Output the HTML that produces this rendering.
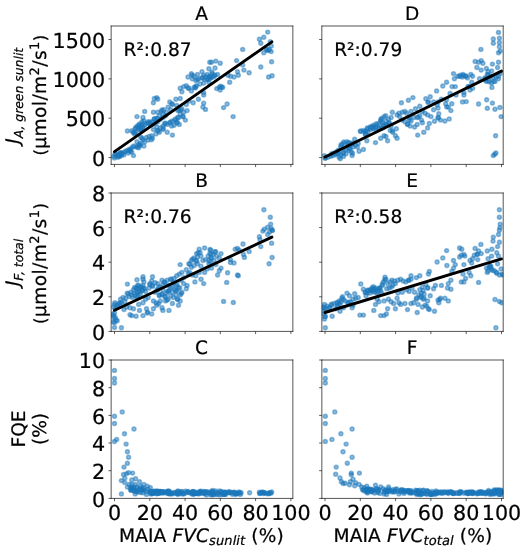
<!DOCTYPE html>
<html><head><meta charset="utf-8"><title>Figure</title>
<style>html,body{margin:0;padding:0;background:#fff}svg text{text-rendering:geometricPrecision;stroke:#000;stroke-width:0.22px;font-family:"DejaVu Sans","Liberation Sans",sans-serif;fill:#000}</style>
</head><body>
<svg width="526" height="550" viewBox="0 0 526 550" style="display:block;filter:blur(0.4px)">
<rect width="526" height="550" fill="#fff"/>
<g id="panelA">
<g fill="#1c78bc" fill-opacity="0.5" stroke="#1c78bc" stroke-opacity="0.5" stroke-width="1.5" clip-path="url(#cpA)">
<clipPath id="cpA"><rect x="111.15" y="26.0" width="181.7" height="138.4"/></clipPath>
<circle cx="113.6" cy="156.4" r="1.95"/>
<circle cx="115.3" cy="154.7" r="1.95"/>
<circle cx="114.5" cy="158.1" r="1.95"/>
<circle cx="117.1" cy="155.6" r="1.95"/>
<circle cx="118.8" cy="154.7" r="1.95"/>
<circle cx="120.5" cy="153.0" r="1.95"/>
<circle cx="122.2" cy="153.8" r="1.95"/>
<circle cx="124.0" cy="152.1" r="1.95"/>
<circle cx="119.7" cy="156.4" r="1.95"/>
<circle cx="117.9" cy="157.3" r="1.95"/>
<circle cx="125.7" cy="151.2" r="1.95"/>
<circle cx="127.4" cy="150.4" r="1.95"/>
<circle cx="129.2" cy="149.5" r="1.95"/>
<circle cx="130.9" cy="148.6" r="1.95"/>
<circle cx="132.6" cy="146.9" r="1.95"/>
<circle cx="128.3" cy="153.0" r="1.95"/>
<circle cx="133.5" cy="155.6" r="1.95"/>
<circle cx="131.8" cy="152.1" r="1.95"/>
<circle cx="130.0" cy="151.2" r="1.95"/>
<circle cx="124.0" cy="154.7" r="1.95"/>
<circle cx="121.4" cy="155.6" r="1.95"/>
<circle cx="137.0" cy="141.7" r="1.95"/>
<circle cx="138.7" cy="145.2" r="1.95"/>
<circle cx="140.4" cy="143.4" r="1.95"/>
<circle cx="143.0" cy="140.0" r="1.95"/>
<circle cx="144.7" cy="141.7" r="1.95"/>
<circle cx="146.5" cy="137.4" r="1.95"/>
<circle cx="148.2" cy="140.0" r="1.95"/>
<circle cx="152.5" cy="138.3" r="1.95"/>
<circle cx="151.7" cy="135.7" r="1.95"/>
<circle cx="149.1" cy="136.5" r="1.95"/>
<circle cx="143.9" cy="146.0" r="1.95"/>
<circle cx="138.7" cy="147.8" r="1.95"/>
<circle cx="136.1" cy="146.9" r="1.95"/>
<circle cx="142.1" cy="138.3" r="1.95"/>
<circle cx="127.4" cy="131.0" r="1.95"/>
<circle cx="131.8" cy="130.8" r="1.95"/>
<circle cx="135.2" cy="128.7" r="1.95"/>
<circle cx="137.0" cy="126.1" r="1.95"/>
<circle cx="138.7" cy="125.3" r="1.95"/>
<circle cx="140.4" cy="127.0" r="1.95"/>
<circle cx="142.1" cy="124.4" r="1.95"/>
<circle cx="137.8" cy="127.9" r="1.95"/>
<circle cx="139.5" cy="129.6" r="1.95"/>
<circle cx="143.0" cy="127.0" r="1.95"/>
<circle cx="144.7" cy="125.3" r="1.95"/>
<circle cx="137.0" cy="116.6" r="1.95"/>
<circle cx="143.0" cy="117.5" r="1.95"/>
<circle cx="144.7" cy="111.4" r="1.95"/>
<circle cx="143.9" cy="121.0" r="1.95"/>
<circle cx="142.1" cy="121.8" r="1.95"/>
<circle cx="146.5" cy="123.5" r="1.95"/>
<circle cx="148.2" cy="121.8" r="1.95"/>
<circle cx="149.9" cy="123.5" r="1.95"/>
<circle cx="141.3" cy="130.5" r="1.95"/>
<circle cx="136.1" cy="132.2" r="1.95"/>
<circle cx="134.4" cy="133.9" r="1.95"/>
<circle cx="153.4" cy="112.3" r="1.95"/>
<circle cx="157.7" cy="112.3" r="1.95"/>
<circle cx="161.2" cy="111.4" r="1.95"/>
<circle cx="163.8" cy="109.7" r="1.95"/>
<circle cx="153.4" cy="102.8" r="1.95"/>
<circle cx="154.3" cy="98.5" r="1.95"/>
<circle cx="156.8" cy="97.6" r="1.95"/>
<circle cx="157.7" cy="99.3" r="1.95"/>
<circle cx="162.9" cy="114.0" r="1.95"/>
<circle cx="159.4" cy="115.8" r="1.95"/>
<circle cx="156.8" cy="118.4" r="1.95"/>
<circle cx="154.3" cy="119.2" r="1.95"/>
<circle cx="152.5" cy="121.8" r="1.95"/>
<circle cx="150.8" cy="125.3" r="1.95"/>
<circle cx="155.1" cy="123.5" r="1.95"/>
<circle cx="157.7" cy="121.8" r="1.95"/>
<circle cx="160.3" cy="119.2" r="1.95"/>
<circle cx="162.9" cy="117.5" r="1.95"/>
<circle cx="165.5" cy="115.8" r="1.95"/>
<circle cx="166.4" cy="112.3" r="1.95"/>
<circle cx="168.1" cy="107.1" r="1.95"/>
<circle cx="169.8" cy="101.9" r="1.95"/>
<circle cx="172.4" cy="104.5" r="1.95"/>
<circle cx="170.7" cy="109.7" r="1.95"/>
<circle cx="157.7" cy="130.5" r="1.95"/>
<circle cx="160.3" cy="127.9" r="1.95"/>
<circle cx="162.9" cy="126.1" r="1.95"/>
<circle cx="164.6" cy="123.5" r="1.95"/>
<circle cx="167.2" cy="124.4" r="1.95"/>
<circle cx="169.8" cy="122.7" r="1.95"/>
<circle cx="172.4" cy="121.0" r="1.95"/>
<circle cx="175.0" cy="119.2" r="1.95"/>
<circle cx="177.6" cy="117.5" r="1.95"/>
<circle cx="179.3" cy="124.4" r="1.95"/>
<circle cx="176.7" cy="122.7" r="1.95"/>
<circle cx="174.1" cy="125.3" r="1.95"/>
<circle cx="171.6" cy="126.1" r="1.95"/>
<circle cx="167.2" cy="132.2" r="1.95"/>
<circle cx="172.4" cy="135.1" r="1.95"/>
<circle cx="162.9" cy="129.6" r="1.95"/>
<circle cx="159.4" cy="132.2" r="1.95"/>
<circle cx="156.0" cy="133.9" r="1.95"/>
<circle cx="153.4" cy="129.6" r="1.95"/>
<circle cx="156.8" cy="127.0" r="1.95"/>
<circle cx="175.9" cy="99.3" r="1.95"/>
<circle cx="180.2" cy="98.5" r="1.95"/>
<circle cx="176.7" cy="105.4" r="1.95"/>
<circle cx="179.3" cy="110.6" r="1.95"/>
<circle cx="181.9" cy="108.8" r="1.95"/>
<circle cx="183.7" cy="112.3" r="1.95"/>
<circle cx="185.4" cy="120.1" r="1.95"/>
<circle cx="182.8" cy="116.6" r="1.95"/>
<circle cx="180.2" cy="114.0" r="1.95"/>
<circle cx="187.1" cy="110.6" r="1.95"/>
<circle cx="186.3" cy="104.5" r="1.95"/>
<circle cx="193.2" cy="102.8" r="1.95"/>
<circle cx="198.4" cy="99.3" r="1.95"/>
<circle cx="188.9" cy="101.1" r="1.95"/>
<circle cx="267.7" cy="32.1" r="1.95"/>
<circle cx="263.8" cy="37.2" r="1.95"/>
<circle cx="259.4" cy="39.3" r="1.95"/>
<circle cx="260.8" cy="43.3" r="1.95"/>
<circle cx="270.3" cy="41.6" r="1.95"/>
<circle cx="271.2" cy="45.9" r="1.95"/>
<circle cx="269.5" cy="49.4" r="1.95"/>
<circle cx="271.2" cy="51.6" r="1.95"/>
<circle cx="266.9" cy="50.2" r="1.95"/>
<circle cx="263.8" cy="52.8" r="1.95"/>
<circle cx="271.6" cy="61.8" r="1.95"/>
<circle cx="260.8" cy="67.0" r="1.95"/>
<circle cx="268.6" cy="77.0" r="1.95"/>
<circle cx="272.1" cy="75.7" r="1.95"/>
<circle cx="242.7" cy="49.4" r="1.95"/>
<circle cx="236.6" cy="60.6" r="1.95"/>
<circle cx="242.7" cy="64.9" r="1.95"/>
<circle cx="243.9" cy="70.1" r="1.95"/>
<circle cx="249.1" cy="72.7" r="1.95"/>
<circle cx="237.5" cy="71.8" r="1.95"/>
<circle cx="238.3" cy="75.3" r="1.95"/>
<circle cx="234.0" cy="77.0" r="1.95"/>
<circle cx="230.5" cy="76.2" r="1.95"/>
<circle cx="229.7" cy="82.2" r="1.95"/>
<circle cx="228.0" cy="75.3" r="1.95"/>
<circle cx="209.8" cy="62.3" r="1.95"/>
<circle cx="211.5" cy="62.3" r="1.95"/>
<circle cx="215.8" cy="61.1" r="1.95"/>
<circle cx="220.2" cy="63.2" r="1.95"/>
<circle cx="215.0" cy="68.0" r="1.95"/>
<circle cx="208.9" cy="68.7" r="1.95"/>
<circle cx="219.3" cy="87.4" r="1.95"/>
<circle cx="216.7" cy="88.6" r="1.95"/>
<circle cx="221.9" cy="86.9" r="1.95"/>
<circle cx="220.2" cy="90.0" r="1.95"/>
<circle cx="202.0" cy="71.8" r="1.95"/>
<circle cx="203.7" cy="75.3" r="1.95"/>
<circle cx="205.5" cy="77.0" r="1.95"/>
<circle cx="207.2" cy="74.4" r="1.95"/>
<circle cx="209.8" cy="76.2" r="1.95"/>
<circle cx="212.4" cy="73.6" r="1.95"/>
<circle cx="215.0" cy="75.3" r="1.95"/>
<circle cx="217.6" cy="74.4" r="1.95"/>
<circle cx="208.1" cy="79.6" r="1.95"/>
<circle cx="210.7" cy="77.9" r="1.95"/>
<circle cx="204.6" cy="79.6" r="1.95"/>
<circle cx="202.0" cy="77.9" r="1.95"/>
<circle cx="203.7" cy="83.1" r="1.95"/>
<circle cx="208.9" cy="82.2" r="1.95"/>
<circle cx="213.2" cy="77.0" r="1.95"/>
<circle cx="203.7" cy="92.6" r="1.95"/>
<circle cx="227.1" cy="104.0" r="1.95"/>
<circle cx="223.6" cy="107.6" r="1.95"/>
<circle cx="233.1" cy="116.6" r="1.95"/>
<circle cx="203.7" cy="103.3" r="1.95"/>
<circle cx="202.9" cy="107.1" r="1.95"/>
<circle cx="205.5" cy="109.4" r="1.95"/>
<circle cx="203.7" cy="95.0" r="1.95"/>
<circle cx="191.4" cy="73.6" r="1.95"/>
<circle cx="188.0" cy="77.0" r="1.95"/>
<circle cx="194.0" cy="76.2" r="1.95"/>
<circle cx="197.5" cy="74.4" r="1.95"/>
<circle cx="192.3" cy="78.8" r="1.95"/>
<circle cx="195.8" cy="80.5" r="1.95"/>
<circle cx="198.4" cy="78.8" r="1.95"/>
<circle cx="180.2" cy="88.3" r="1.95"/>
<circle cx="183.7" cy="86.6" r="1.95"/>
<circle cx="186.3" cy="85.7" r="1.95"/>
<circle cx="188.9" cy="88.3" r="1.95"/>
<circle cx="191.4" cy="90.9" r="1.95"/>
<circle cx="181.9" cy="91.7" r="1.95"/>
<circle cx="196.6" cy="85.7" r="1.95"/>
<circle cx="200.1" cy="84.0" r="1.95"/>
<circle cx="194.0" cy="87.4" r="1.95"/>
<circle cx="115.2" cy="153.5" r="1.95"/>
<circle cx="117.7" cy="155.9" r="1.95"/>
<circle cx="120.1" cy="152.7" r="1.95"/>
<circle cx="121.6" cy="153.1" r="1.95"/>
<circle cx="118.4" cy="154.9" r="1.95"/>
<circle cx="119.5" cy="155.8" r="1.95"/>
<circle cx="130.2" cy="150.7" r="1.95"/>
<circle cx="134.0" cy="146.0" r="1.95"/>
<circle cx="140.2" cy="145.6" r="1.95"/>
<circle cx="139.2" cy="144.5" r="1.95"/>
<circle cx="151.4" cy="139.7" r="1.95"/>
<circle cx="137.4" cy="147.1" r="1.95"/>
<circle cx="140.8" cy="137.3" r="1.95"/>
<circle cx="133.1" cy="132.3" r="1.95"/>
<circle cx="135.7" cy="127.8" r="1.95"/>
<circle cx="139.5" cy="123.9" r="1.95"/>
<circle cx="140.9" cy="125.7" r="1.95"/>
<circle cx="142.4" cy="128.2" r="1.95"/>
<circle cx="148.3" cy="123.1" r="1.95"/>
<circle cx="150.0" cy="122.0" r="1.95"/>
<circle cx="141.0" cy="129.7" r="1.95"/>
<circle cx="134.8" cy="132.7" r="1.95"/>
<circle cx="161.9" cy="109.9" r="1.95"/>
<circle cx="156.7" cy="118.5" r="1.95"/>
<circle cx="154.3" cy="118.8" r="1.95"/>
<circle cx="152.2" cy="124.5" r="1.95"/>
<circle cx="171.8" cy="103.7" r="1.95"/>
<circle cx="165.7" cy="123.3" r="1.95"/>
<circle cx="170.6" cy="121.9" r="1.95"/>
<circle cx="175.9" cy="120.1" r="1.95"/>
<circle cx="178.5" cy="117.8" r="1.95"/>
<circle cx="177.4" cy="122.6" r="1.95"/>
<circle cx="163.3" cy="128.3" r="1.95"/>
<circle cx="158.1" cy="130.8" r="1.95"/>
<circle cx="177.8" cy="110.4" r="1.95"/>
<circle cx="180.6" cy="109.7" r="1.95"/>
<circle cx="183.0" cy="116.5" r="1.95"/>
<circle cx="268.4" cy="50.5" r="1.95"/>
<circle cx="266.6" cy="49.0" r="1.95"/>
<circle cx="220.4" cy="86.2" r="1.95"/>
<circle cx="222.6" cy="87.4" r="1.95"/>
<circle cx="209.2" cy="76.7" r="1.95"/>
<circle cx="211.8" cy="72.1" r="1.95"/>
<circle cx="207.6" cy="79.3" r="1.95"/>
<circle cx="210.3" cy="77.9" r="1.95"/>
<circle cx="202.6" cy="77.7" r="1.95"/>
<circle cx="214.3" cy="75.9" r="1.95"/>
<circle cx="192.2" cy="75.1" r="1.95"/>
<circle cx="197.6" cy="79.7" r="1.95"/>
<circle cx="188.0" cy="88.0" r="1.95"/>
<circle cx="195.5" cy="86.8" r="1.95"/>
<circle cx="195.3" cy="87.9" r="1.95"/>
</g>
<line x1="114.5" y1="151.6" x2="271.9" y2="41.9" stroke="#000" stroke-width="2.9" stroke-linecap="round" clip-path="url(#cpA)"/>
<path d="M111.15 25.6V164.8M292.85 25.6V164.8M110.75 26.0H293.25M110.75 164.4H293.25" fill="none" stroke="#000" stroke-opacity="0.85" stroke-width="0.8"/>
<line x1="108.45" x2="111.15" y1="157.6" y2="157.6" stroke="#000" stroke-opacity="0.8" stroke-width="0.8"/>
<text x="105.2" y="165.8" font-size="20.7" text-anchor="end">0</text>
<line x1="108.45" x2="111.15" y1="118.2" y2="118.2" stroke="#000" stroke-opacity="0.8" stroke-width="0.8"/>
<text x="105.2" y="126.4" font-size="20.7" text-anchor="end">500</text>
<line x1="108.45" x2="111.15" y1="78.9" y2="78.9" stroke="#000" stroke-opacity="0.8" stroke-width="0.8"/>
<text x="105.2" y="87.1" font-size="20.7" text-anchor="end">1000</text>
<line x1="108.45" x2="111.15" y1="39.5" y2="39.5" stroke="#000" stroke-opacity="0.8" stroke-width="0.8"/>
<text x="105.2" y="47.7" font-size="20.7" text-anchor="end">1500</text>
<line x1="114.5" x2="114.5" y1="164.4" y2="167.10" stroke="#000" stroke-opacity="0.8" stroke-width="0.8"/>
<line x1="149.8" x2="149.8" y1="164.4" y2="167.10" stroke="#000" stroke-opacity="0.8" stroke-width="0.8"/>
<line x1="185.1" x2="185.1" y1="164.4" y2="167.10" stroke="#000" stroke-opacity="0.8" stroke-width="0.8"/>
<line x1="220.3" x2="220.3" y1="164.4" y2="167.10" stroke="#000" stroke-opacity="0.8" stroke-width="0.8"/>
<line x1="255.6" x2="255.6" y1="164.4" y2="167.10" stroke="#000" stroke-opacity="0.8" stroke-width="0.8"/>
<line x1="290.9" x2="290.9" y1="164.4" y2="167.10" stroke="#000" stroke-opacity="0.8" stroke-width="0.8"/>
<text x="201.6" y="20.4" font-size="18.6" text-anchor="middle">A</text>
<text x="123.5" y="55.8" font-size="18.6">R²:0.87</text>
</g>
<g id="panelD">
<g fill="#1c78bc" fill-opacity="0.5" stroke="#1c78bc" stroke-opacity="0.5" stroke-width="1.5" clip-path="url(#cpD)">
<clipPath id="cpD"><rect x="321.85" y="26.0" width="181.3" height="138.4"/></clipPath>
<circle cx="324.5" cy="155.6" r="1.95"/>
<circle cx="325.3" cy="158.1" r="1.95"/>
<circle cx="327.9" cy="157.3" r="1.95"/>
<circle cx="330.5" cy="156.4" r="1.95"/>
<circle cx="333.1" cy="155.6" r="1.95"/>
<circle cx="335.7" cy="154.7" r="1.95"/>
<circle cx="338.3" cy="153.8" r="1.95"/>
<circle cx="340.9" cy="154.7" r="1.95"/>
<circle cx="343.5" cy="153.0" r="1.95"/>
<circle cx="346.1" cy="153.8" r="1.95"/>
<circle cx="339.2" cy="157.3" r="1.95"/>
<circle cx="343.5" cy="156.4" r="1.95"/>
<circle cx="352.1" cy="155.6" r="1.95"/>
<circle cx="351.3" cy="152.1" r="1.95"/>
<circle cx="348.7" cy="150.4" r="1.95"/>
<circle cx="346.1" cy="149.5" r="1.95"/>
<circle cx="343.5" cy="148.6" r="1.95"/>
<circle cx="340.9" cy="146.9" r="1.95"/>
<circle cx="341.8" cy="144.3" r="1.95"/>
<circle cx="344.4" cy="143.4" r="1.95"/>
<circle cx="347.0" cy="141.7" r="1.95"/>
<circle cx="349.5" cy="142.6" r="1.95"/>
<circle cx="352.1" cy="144.3" r="1.95"/>
<circle cx="354.7" cy="139.1" r="1.95"/>
<circle cx="348.7" cy="146.0" r="1.95"/>
<circle cx="350.4" cy="148.6" r="1.95"/>
<circle cx="353.0" cy="146.9" r="1.95"/>
<circle cx="355.6" cy="145.2" r="1.95"/>
<circle cx="358.2" cy="143.4" r="1.95"/>
<circle cx="359.1" cy="151.2" r="1.95"/>
<circle cx="363.4" cy="149.5" r="1.95"/>
<circle cx="357.3" cy="146.9" r="1.95"/>
<circle cx="337.4" cy="151.2" r="1.95"/>
<circle cx="334.8" cy="153.0" r="1.95"/>
<circle cx="331.4" cy="154.7" r="1.95"/>
<circle cx="360.8" cy="131.3" r="1.95"/>
<circle cx="363.4" cy="130.5" r="1.95"/>
<circle cx="366.0" cy="131.3" r="1.95"/>
<circle cx="367.7" cy="128.7" r="1.95"/>
<circle cx="370.3" cy="127.0" r="1.95"/>
<circle cx="372.0" cy="126.1" r="1.95"/>
<circle cx="373.8" cy="125.3" r="1.95"/>
<circle cx="375.5" cy="127.0" r="1.95"/>
<circle cx="377.2" cy="125.3" r="1.95"/>
<circle cx="372.9" cy="128.7" r="1.95"/>
<circle cx="370.3" cy="129.6" r="1.95"/>
<circle cx="367.7" cy="132.2" r="1.95"/>
<circle cx="365.1" cy="133.9" r="1.95"/>
<circle cx="379.0" cy="123.5" r="1.95"/>
<circle cx="380.7" cy="121.0" r="1.95"/>
<circle cx="382.4" cy="122.7" r="1.95"/>
<circle cx="384.1" cy="116.6" r="1.95"/>
<circle cx="381.6" cy="118.4" r="1.95"/>
<circle cx="385.9" cy="121.0" r="1.95"/>
<circle cx="388.5" cy="119.2" r="1.95"/>
<circle cx="391.1" cy="117.5" r="1.95"/>
<circle cx="392.3" cy="112.3" r="1.95"/>
<circle cx="389.3" cy="122.7" r="1.95"/>
<circle cx="386.7" cy="124.4" r="1.95"/>
<circle cx="384.1" cy="125.3" r="1.95"/>
<circle cx="381.6" cy="127.9" r="1.95"/>
<circle cx="379.0" cy="128.7" r="1.95"/>
<circle cx="376.4" cy="130.5" r="1.95"/>
<circle cx="366.8" cy="140.8" r="1.95"/>
<circle cx="375.5" cy="142.6" r="1.95"/>
<circle cx="380.7" cy="138.3" r="1.95"/>
<circle cx="384.1" cy="135.7" r="1.95"/>
<circle cx="387.6" cy="140.8" r="1.95"/>
<circle cx="385.9" cy="136.5" r="1.95"/>
<circle cx="390.2" cy="130.5" r="1.95"/>
<circle cx="392.8" cy="132.2" r="1.95"/>
<circle cx="396.3" cy="128.7" r="1.95"/>
<circle cx="395.4" cy="135.7" r="1.95"/>
<circle cx="397.1" cy="138.3" r="1.95"/>
<circle cx="391.1" cy="126.1" r="1.95"/>
<circle cx="401.4" cy="102.8" r="1.95"/>
<circle cx="408.4" cy="100.2" r="1.95"/>
<circle cx="397.1" cy="114.9" r="1.95"/>
<circle cx="399.7" cy="116.6" r="1.95"/>
<circle cx="402.3" cy="112.3" r="1.95"/>
<circle cx="404.9" cy="111.4" r="1.95"/>
<circle cx="406.6" cy="113.2" r="1.95"/>
<circle cx="398.9" cy="113.2" r="1.95"/>
<circle cx="402.3" cy="120.1" r="1.95"/>
<circle cx="404.9" cy="121.8" r="1.95"/>
<circle cx="407.5" cy="124.4" r="1.95"/>
<circle cx="410.1" cy="126.1" r="1.95"/>
<circle cx="411.0" cy="121.0" r="1.95"/>
<circle cx="409.2" cy="117.5" r="1.95"/>
<circle cx="411.0" cy="111.4" r="1.95"/>
<circle cx="412.9" cy="97.6" r="1.95"/>
<circle cx="425.8" cy="98.8" r="1.95"/>
<circle cx="430.2" cy="96.7" r="1.95"/>
<circle cx="428.4" cy="101.6" r="1.95"/>
<circle cx="433.6" cy="101.9" r="1.95"/>
<circle cx="438.0" cy="101.9" r="1.95"/>
<circle cx="441.4" cy="99.3" r="1.95"/>
<circle cx="446.6" cy="99.8" r="1.95"/>
<circle cx="451.8" cy="103.7" r="1.95"/>
<circle cx="448.3" cy="107.1" r="1.95"/>
<circle cx="450.9" cy="110.6" r="1.95"/>
<circle cx="445.7" cy="103.7" r="1.95"/>
<circle cx="437.1" cy="105.0" r="1.95"/>
<circle cx="438.0" cy="108.0" r="1.95"/>
<circle cx="433.6" cy="109.7" r="1.95"/>
<circle cx="419.8" cy="106.2" r="1.95"/>
<circle cx="415.5" cy="108.8" r="1.95"/>
<circle cx="422.4" cy="111.4" r="1.95"/>
<circle cx="425.0" cy="113.2" r="1.95"/>
<circle cx="427.6" cy="114.9" r="1.95"/>
<circle cx="431.0" cy="116.6" r="1.95"/>
<circle cx="419.8" cy="115.8" r="1.95"/>
<circle cx="417.2" cy="117.5" r="1.95"/>
<circle cx="413.7" cy="117.5" r="1.95"/>
<circle cx="421.5" cy="120.1" r="1.95"/>
<circle cx="422.4" cy="122.7" r="1.95"/>
<circle cx="417.2" cy="124.4" r="1.95"/>
<circle cx="414.6" cy="127.0" r="1.95"/>
<circle cx="429.3" cy="123.5" r="1.95"/>
<circle cx="434.5" cy="121.3" r="1.95"/>
<circle cx="438.8" cy="113.7" r="1.95"/>
<circle cx="438.0" cy="117.5" r="1.95"/>
<circle cx="440.5" cy="120.1" r="1.95"/>
<circle cx="444.9" cy="121.0" r="1.95"/>
<circle cx="449.2" cy="118.9" r="1.95"/>
<circle cx="427.6" cy="127.9" r="1.95"/>
<circle cx="423.8" cy="132.2" r="1.95"/>
<circle cx="417.7" cy="135.1" r="1.95"/>
<circle cx="462.5" cy="101.9" r="1.95"/>
<circle cx="466.2" cy="101.6" r="1.95"/>
<circle cx="478.6" cy="104.0" r="1.95"/>
<circle cx="486.7" cy="99.7" r="1.95"/>
<circle cx="492.4" cy="103.1" r="1.95"/>
<circle cx="487.3" cy="108.3" r="1.95"/>
<circle cx="495.0" cy="109.2" r="1.95"/>
<circle cx="499.9" cy="107.5" r="1.95"/>
<circle cx="501.1" cy="116.6" r="1.95"/>
<circle cx="495.6" cy="135.7" r="1.95"/>
<circle cx="493.3" cy="155.6" r="1.95"/>
<circle cx="494.7" cy="154.2" r="1.95"/>
<circle cx="495.9" cy="153.0" r="1.95"/>
<circle cx="463.9" cy="95.0" r="1.95"/>
<circle cx="456.1" cy="95.0" r="1.95"/>
<circle cx="498.5" cy="32.4" r="1.95"/>
<circle cx="493.3" cy="39.0" r="1.95"/>
<circle cx="499.4" cy="38.1" r="1.95"/>
<circle cx="493.3" cy="43.3" r="1.95"/>
<circle cx="499.4" cy="42.4" r="1.95"/>
<circle cx="499.4" cy="46.8" r="1.95"/>
<circle cx="500.2" cy="51.1" r="1.95"/>
<circle cx="498.5" cy="52.8" r="1.95"/>
<circle cx="480.9" cy="49.4" r="1.95"/>
<circle cx="475.1" cy="61.5" r="1.95"/>
<circle cx="478.6" cy="62.3" r="1.95"/>
<circle cx="481.2" cy="60.6" r="1.95"/>
<circle cx="482.9" cy="63.2" r="1.95"/>
<circle cx="476.9" cy="67.5" r="1.95"/>
<circle cx="481.2" cy="70.1" r="1.95"/>
<circle cx="486.4" cy="68.4" r="1.95"/>
<circle cx="492.4" cy="64.1" r="1.95"/>
<circle cx="498.5" cy="62.3" r="1.95"/>
<circle cx="497.6" cy="67.5" r="1.95"/>
<circle cx="491.6" cy="71.0" r="1.95"/>
<circle cx="488.1" cy="71.8" r="1.95"/>
<circle cx="487.3" cy="74.4" r="1.95"/>
<circle cx="490.7" cy="76.2" r="1.95"/>
<circle cx="493.3" cy="77.9" r="1.95"/>
<circle cx="495.9" cy="77.0" r="1.95"/>
<circle cx="498.5" cy="76.2" r="1.95"/>
<circle cx="500.2" cy="73.6" r="1.95"/>
<circle cx="495.0" cy="81.4" r="1.95"/>
<circle cx="491.6" cy="83.1" r="1.95"/>
<circle cx="489.0" cy="80.5" r="1.95"/>
<circle cx="491.9" cy="87.4" r="1.95"/>
<circle cx="498.5" cy="78.8" r="1.95"/>
<circle cx="479.5" cy="78.8" r="1.95"/>
<circle cx="453.5" cy="73.6" r="1.95"/>
<circle cx="457.8" cy="76.2" r="1.95"/>
<circle cx="460.4" cy="75.3" r="1.95"/>
<circle cx="463.0" cy="74.4" r="1.95"/>
<circle cx="462.2" cy="77.0" r="1.95"/>
<circle cx="465.6" cy="76.2" r="1.95"/>
<circle cx="470.8" cy="74.4" r="1.95"/>
<circle cx="472.6" cy="76.2" r="1.95"/>
<circle cx="467.4" cy="77.9" r="1.95"/>
<circle cx="454.4" cy="78.8" r="1.95"/>
<circle cx="446.6" cy="82.2" r="1.95"/>
<circle cx="442.8" cy="86.0" r="1.95"/>
<circle cx="452.1" cy="86.6" r="1.95"/>
<circle cx="455.3" cy="86.6" r="1.95"/>
<circle cx="436.6" cy="90.9" r="1.95"/>
<circle cx="471.7" cy="82.2" r="1.95"/>
<circle cx="469.1" cy="86.6" r="1.95"/>
<circle cx="472.6" cy="88.3" r="1.95"/>
<circle cx="470.0" cy="90.0" r="1.95"/>
<circle cx="463.9" cy="92.6" r="1.95"/>
<circle cx="450.1" cy="93.5" r="1.95"/>
<circle cx="484.7" cy="77.9" r="1.95"/>
<circle cx="486.4" cy="81.4" r="1.95"/>
<circle cx="325.3" cy="158.3" r="1.95"/>
<circle cx="337.1" cy="153.0" r="1.95"/>
<circle cx="343.0" cy="152.8" r="1.95"/>
<circle cx="340.3" cy="158.7" r="1.95"/>
<circle cx="352.5" cy="153.2" r="1.95"/>
<circle cx="340.9" cy="145.3" r="1.95"/>
<circle cx="343.7" cy="142.0" r="1.95"/>
<circle cx="348.4" cy="143.0" r="1.95"/>
<circle cx="353.0" cy="143.0" r="1.95"/>
<circle cx="349.3" cy="148.5" r="1.95"/>
<circle cx="338.5" cy="150.2" r="1.95"/>
<circle cx="335.8" cy="152.7" r="1.95"/>
<circle cx="332.1" cy="153.4" r="1.95"/>
<circle cx="360.3" cy="131.3" r="1.95"/>
<circle cx="364.8" cy="131.5" r="1.95"/>
<circle cx="367.3" cy="127.9" r="1.95"/>
<circle cx="370.3" cy="127.8" r="1.95"/>
<circle cx="373.4" cy="127.4" r="1.95"/>
<circle cx="376.3" cy="123.8" r="1.95"/>
<circle cx="373.6" cy="127.7" r="1.95"/>
<circle cx="365.7" cy="134.2" r="1.95"/>
<circle cx="385.7" cy="115.7" r="1.95"/>
<circle cx="380.8" cy="119.4" r="1.95"/>
<circle cx="388.9" cy="123.5" r="1.95"/>
<circle cx="386.4" cy="124.6" r="1.95"/>
<circle cx="383.5" cy="125.2" r="1.95"/>
<circle cx="382.9" cy="127.8" r="1.95"/>
<circle cx="379.0" cy="128.3" r="1.95"/>
<circle cx="392.4" cy="130.8" r="1.95"/>
<circle cx="407.6" cy="124.0" r="1.95"/>
<circle cx="409.4" cy="120.0" r="1.95"/>
<circle cx="428.0" cy="102.6" r="1.95"/>
<circle cx="446.7" cy="106.9" r="1.95"/>
<circle cx="418.3" cy="117.1" r="1.95"/>
<circle cx="438.4" cy="118.0" r="1.95"/>
<circle cx="488.1" cy="74.7" r="1.95"/>
<circle cx="493.7" cy="81.4" r="1.95"/>
<circle cx="489.0" cy="81.7" r="1.95"/>
<circle cx="459.5" cy="76.4" r="1.95"/>
<circle cx="463.1" cy="75.5" r="1.95"/>
<circle cx="466.0" cy="75.9" r="1.95"/>
<circle cx="468.0" cy="86.4" r="1.95"/>
<circle cx="485.5" cy="78.5" r="1.95"/>
<circle cx="485.4" cy="80.0" r="1.95"/>
</g>
<line x1="325.0" y1="157.0" x2="501.5" y2="71.1" stroke="#000" stroke-width="2.9" stroke-linecap="round" clip-path="url(#cpD)"/>
<path d="M321.85 25.6V164.8M503.2 25.6V164.8M321.45000000000005 26.0H503.59999999999997M321.45000000000005 164.4H503.59999999999997" fill="none" stroke="#000" stroke-opacity="0.85" stroke-width="0.8"/>
<line x1="319.15" x2="321.85" y1="157.6" y2="157.6" stroke="#000" stroke-opacity="0.8" stroke-width="0.8"/>
<line x1="319.15" x2="321.85" y1="118.2" y2="118.2" stroke="#000" stroke-opacity="0.8" stroke-width="0.8"/>
<line x1="319.15" x2="321.85" y1="78.9" y2="78.9" stroke="#000" stroke-opacity="0.8" stroke-width="0.8"/>
<line x1="319.15" x2="321.85" y1="39.5" y2="39.5" stroke="#000" stroke-opacity="0.8" stroke-width="0.8"/>
<line x1="325.0" x2="325.0" y1="164.4" y2="167.10" stroke="#000" stroke-opacity="0.8" stroke-width="0.8"/>
<line x1="360.3" x2="360.3" y1="164.4" y2="167.10" stroke="#000" stroke-opacity="0.8" stroke-width="0.8"/>
<line x1="395.6" x2="395.6" y1="164.4" y2="167.10" stroke="#000" stroke-opacity="0.8" stroke-width="0.8"/>
<line x1="430.9" x2="430.9" y1="164.4" y2="167.10" stroke="#000" stroke-opacity="0.8" stroke-width="0.8"/>
<line x1="466.2" x2="466.2" y1="164.4" y2="167.10" stroke="#000" stroke-opacity="0.8" stroke-width="0.8"/>
<line x1="501.5" x2="501.5" y1="164.4" y2="167.10" stroke="#000" stroke-opacity="0.8" stroke-width="0.8"/>
<text x="412.1" y="20.4" font-size="18.6" text-anchor="middle">D</text>
<text x="334.2" y="55.8" font-size="18.6">R²:0.79</text>
</g>
<g id="panelB">
<g fill="#1c78bc" fill-opacity="0.5" stroke="#1c78bc" stroke-opacity="0.5" stroke-width="1.5" clip-path="url(#cpB)">
<clipPath id="cpB"><rect x="111.15" y="193.0" width="181.7" height="138.4"/></clipPath>
<circle cx="114.5" cy="304.4" r="1.95"/>
<circle cx="113.6" cy="307.0" r="1.95"/>
<circle cx="115.3" cy="308.7" r="1.95"/>
<circle cx="114.5" cy="313.0" r="1.95"/>
<circle cx="113.6" cy="315.6" r="1.95"/>
<circle cx="115.3" cy="317.4" r="1.95"/>
<circle cx="116.2" cy="320.0" r="1.95"/>
<circle cx="114.5" cy="322.6" r="1.95"/>
<circle cx="114.5" cy="327.4" r="1.95"/>
<circle cx="121.4" cy="327.7" r="1.95"/>
<circle cx="117.1" cy="306.1" r="1.95"/>
<circle cx="118.8" cy="303.5" r="1.95"/>
<circle cx="120.5" cy="299.2" r="1.95"/>
<circle cx="123.1" cy="297.5" r="1.95"/>
<circle cx="125.7" cy="298.3" r="1.95"/>
<circle cx="128.3" cy="294.0" r="1.95"/>
<circle cx="130.9" cy="292.3" r="1.95"/>
<circle cx="133.5" cy="289.7" r="1.95"/>
<circle cx="136.1" cy="288.0" r="1.95"/>
<circle cx="138.7" cy="288.8" r="1.95"/>
<circle cx="141.3" cy="287.1" r="1.95"/>
<circle cx="143.0" cy="285.4" r="1.95"/>
<circle cx="143.9" cy="281.9" r="1.95"/>
<circle cx="144.7" cy="288.8" r="1.95"/>
<circle cx="142.1" cy="290.5" r="1.95"/>
<circle cx="139.5" cy="291.4" r="1.95"/>
<circle cx="137.0" cy="292.3" r="1.95"/>
<circle cx="134.4" cy="293.1" r="1.95"/>
<circle cx="131.8" cy="294.9" r="1.95"/>
<circle cx="129.2" cy="296.6" r="1.95"/>
<circle cx="127.4" cy="284.1" r="1.95"/>
<circle cx="137.0" cy="279.8" r="1.95"/>
<circle cx="143.0" cy="276.7" r="1.95"/>
<circle cx="143.0" cy="279.3" r="1.95"/>
<circle cx="138.7" cy="285.4" r="1.95"/>
<circle cx="145.6" cy="291.4" r="1.95"/>
<circle cx="135.2" cy="295.7" r="1.95"/>
<circle cx="140.4" cy="294.0" r="1.95"/>
<circle cx="137.8" cy="295.7" r="1.95"/>
<circle cx="132.6" cy="297.5" r="1.95"/>
<circle cx="124.8" cy="301.8" r="1.95"/>
<circle cx="121.4" cy="302.7" r="1.95"/>
<circle cx="124.0" cy="309.6" r="1.95"/>
<circle cx="126.6" cy="307.0" r="1.95"/>
<circle cx="130.0" cy="307.8" r="1.95"/>
<circle cx="133.5" cy="308.7" r="1.95"/>
<circle cx="138.7" cy="304.4" r="1.95"/>
<circle cx="139.5" cy="310.4" r="1.95"/>
<circle cx="130.0" cy="314.8" r="1.95"/>
<circle cx="131.8" cy="315.6" r="1.95"/>
<circle cx="136.1" cy="316.2" r="1.95"/>
<circle cx="143.0" cy="315.6" r="1.95"/>
<circle cx="147.3" cy="313.0" r="1.95"/>
<circle cx="146.5" cy="308.7" r="1.95"/>
<circle cx="151.7" cy="313.9" r="1.95"/>
<circle cx="153.4" cy="308.7" r="1.95"/>
<circle cx="143.0" cy="302.7" r="1.95"/>
<circle cx="145.6" cy="299.2" r="1.95"/>
<circle cx="148.2" cy="297.5" r="1.95"/>
<circle cx="152.5" cy="276.7" r="1.95"/>
<circle cx="151.7" cy="281.0" r="1.95"/>
<circle cx="149.9" cy="283.6" r="1.95"/>
<circle cx="152.5" cy="286.2" r="1.95"/>
<circle cx="155.1" cy="282.8" r="1.95"/>
<circle cx="157.7" cy="283.6" r="1.95"/>
<circle cx="149.1" cy="288.0" r="1.95"/>
<circle cx="162.0" cy="280.2" r="1.95"/>
<circle cx="164.6" cy="281.9" r="1.95"/>
<circle cx="167.2" cy="280.2" r="1.95"/>
<circle cx="162.9" cy="284.5" r="1.95"/>
<circle cx="160.3" cy="287.1" r="1.95"/>
<circle cx="157.7" cy="289.7" r="1.95"/>
<circle cx="155.1" cy="292.3" r="1.95"/>
<circle cx="153.4" cy="300.9" r="1.95"/>
<circle cx="156.0" cy="302.7" r="1.95"/>
<circle cx="158.6" cy="303.5" r="1.95"/>
<circle cx="160.3" cy="300.9" r="1.95"/>
<circle cx="156.8" cy="305.3" r="1.95"/>
<circle cx="162.0" cy="307.8" r="1.95"/>
<circle cx="162.9" cy="310.4" r="1.95"/>
<circle cx="169.0" cy="310.4" r="1.95"/>
<circle cx="159.4" cy="295.7" r="1.95"/>
<circle cx="162.0" cy="294.0" r="1.95"/>
<circle cx="164.6" cy="296.6" r="1.95"/>
<circle cx="166.4" cy="293.1" r="1.95"/>
<circle cx="169.0" cy="290.5" r="1.95"/>
<circle cx="170.7" cy="288.0" r="1.95"/>
<circle cx="172.4" cy="292.3" r="1.95"/>
<circle cx="175.0" cy="289.7" r="1.95"/>
<circle cx="170.7" cy="295.7" r="1.95"/>
<circle cx="168.1" cy="299.2" r="1.95"/>
<circle cx="165.5" cy="300.9" r="1.95"/>
<circle cx="173.3" cy="297.5" r="1.95"/>
<circle cx="175.9" cy="294.9" r="1.95"/>
<circle cx="172.4" cy="303.5" r="1.95"/>
<circle cx="178.5" cy="305.3" r="1.95"/>
<circle cx="180.2" cy="300.9" r="1.95"/>
<circle cx="177.6" cy="299.2" r="1.95"/>
<circle cx="180.2" cy="294.9" r="1.95"/>
<circle cx="181.9" cy="292.3" r="1.95"/>
<circle cx="178.5" cy="288.0" r="1.95"/>
<circle cx="175.9" cy="285.4" r="1.95"/>
<circle cx="173.3" cy="282.8" r="1.95"/>
<circle cx="171.6" cy="279.3" r="1.95"/>
<circle cx="174.1" cy="278.4" r="1.95"/>
<circle cx="176.7" cy="275.8" r="1.95"/>
<circle cx="179.3" cy="274.1" r="1.95"/>
<circle cx="181.9" cy="272.4" r="1.95"/>
<circle cx="183.7" cy="277.6" r="1.95"/>
<circle cx="181.1" cy="280.2" r="1.95"/>
<circle cx="183.7" cy="283.6" r="1.95"/>
<circle cx="186.3" cy="288.8" r="1.95"/>
<circle cx="187.1" cy="285.4" r="1.95"/>
<circle cx="180.2" cy="264.6" r="1.95"/>
<circle cx="186.3" cy="269.8" r="1.95"/>
<circle cx="188.9" cy="263.7" r="1.95"/>
<circle cx="191.4" cy="267.2" r="1.95"/>
<circle cx="194.0" cy="265.5" r="1.95"/>
<circle cx="197.5" cy="263.7" r="1.95"/>
<circle cx="201.0" cy="266.3" r="1.95"/>
<circle cx="194.9" cy="281.9" r="1.95"/>
<circle cx="192.3" cy="275.0" r="1.95"/>
<circle cx="189.7" cy="272.4" r="1.95"/>
<circle cx="195.8" cy="275.8" r="1.95"/>
<circle cx="199.2" cy="272.4" r="1.95"/>
<circle cx="201.0" cy="279.3" r="1.95"/>
<circle cx="176.7" cy="290.5" r="1.95"/>
<circle cx="168.1" cy="285.4" r="1.95"/>
<circle cx="162.9" cy="289.7" r="1.95"/>
<circle cx="269.1" cy="263.7" r="1.95"/>
<circle cx="234.0" cy="262.9" r="1.95"/>
<circle cx="230.5" cy="262.5" r="1.95"/>
<circle cx="221.0" cy="268.1" r="1.95"/>
<circle cx="219.3" cy="270.7" r="1.95"/>
<circle cx="227.6" cy="272.7" r="1.95"/>
<circle cx="217.6" cy="275.0" r="1.95"/>
<circle cx="237.5" cy="275.0" r="1.95"/>
<circle cx="238.3" cy="275.8" r="1.95"/>
<circle cx="226.7" cy="282.4" r="1.95"/>
<circle cx="203.7" cy="283.6" r="1.95"/>
<circle cx="223.6" cy="301.4" r="1.95"/>
<circle cx="233.3" cy="302.5" r="1.95"/>
<circle cx="204.6" cy="272.4" r="1.95"/>
<circle cx="207.2" cy="268.9" r="1.95"/>
<circle cx="211.5" cy="268.1" r="1.95"/>
<circle cx="208.9" cy="263.7" r="1.95"/>
<circle cx="215.8" cy="264.6" r="1.95"/>
<circle cx="199.2" cy="249.2" r="1.95"/>
<circle cx="196.6" cy="253.6" r="1.95"/>
<circle cx="200.1" cy="252.7" r="1.95"/>
<circle cx="194.0" cy="257.9" r="1.95"/>
<circle cx="197.5" cy="257.0" r="1.95"/>
<circle cx="201.0" cy="256.1" r="1.95"/>
<circle cx="191.4" cy="260.5" r="1.95"/>
<circle cx="195.8" cy="260.5" r="1.95"/>
<circle cx="263.9" cy="209.8" r="1.95"/>
<circle cx="270.3" cy="217.2" r="1.95"/>
<circle cx="270.7" cy="224.1" r="1.95"/>
<circle cx="267.7" cy="227.3" r="1.95"/>
<circle cx="264.3" cy="229.3" r="1.95"/>
<circle cx="262.9" cy="231.1" r="1.95"/>
<circle cx="271.2" cy="228.5" r="1.95"/>
<circle cx="272.1" cy="230.2" r="1.95"/>
<circle cx="269.5" cy="231.9" r="1.95"/>
<circle cx="267.7" cy="234.5" r="1.95"/>
<circle cx="259.4" cy="236.8" r="1.95"/>
<circle cx="260.0" cy="239.7" r="1.95"/>
<circle cx="271.6" cy="243.2" r="1.95"/>
<circle cx="260.8" cy="246.6" r="1.95"/>
<circle cx="272.1" cy="257.5" r="1.95"/>
<circle cx="243.0" cy="244.0" r="1.95"/>
<circle cx="237.5" cy="248.4" r="1.95"/>
<circle cx="235.2" cy="249.2" r="1.95"/>
<circle cx="239.2" cy="250.1" r="1.95"/>
<circle cx="249.1" cy="251.5" r="1.95"/>
<circle cx="243.5" cy="254.4" r="1.95"/>
<circle cx="244.4" cy="257.4" r="1.95"/>
<circle cx="230.5" cy="259.6" r="1.95"/>
<circle cx="204.6" cy="248.0" r="1.95"/>
<circle cx="210.7" cy="250.1" r="1.95"/>
<circle cx="215.0" cy="251.8" r="1.95"/>
<circle cx="209.8" cy="253.6" r="1.95"/>
<circle cx="213.2" cy="254.4" r="1.95"/>
<circle cx="208.1" cy="256.1" r="1.95"/>
<circle cx="211.5" cy="257.9" r="1.95"/>
<circle cx="205.5" cy="259.6" r="1.95"/>
<circle cx="216.7" cy="256.1" r="1.95"/>
<circle cx="221.0" cy="253.6" r="1.95"/>
<circle cx="219.3" cy="257.9" r="1.95"/>
<circle cx="202.9" cy="260.5" r="1.95"/>
<circle cx="214.1" cy="260.5" r="1.95"/>
<circle cx="208.9" cy="260.5" r="1.95"/>
<circle cx="114.9" cy="302.8" r="1.95"/>
<circle cx="112.6" cy="314.2" r="1.95"/>
<circle cx="113.8" cy="318.0" r="1.95"/>
<circle cx="117.2" cy="320.8" r="1.95"/>
<circle cx="113.4" cy="322.1" r="1.95"/>
<circle cx="117.6" cy="305.1" r="1.95"/>
<circle cx="120.0" cy="303.3" r="1.95"/>
<circle cx="127.2" cy="293.2" r="1.95"/>
<circle cx="134.6" cy="287.5" r="1.95"/>
<circle cx="137.3" cy="288.0" r="1.95"/>
<circle cx="141.0" cy="287.1" r="1.95"/>
<circle cx="143.4" cy="288.2" r="1.95"/>
<circle cx="142.3" cy="290.4" r="1.95"/>
<circle cx="138.2" cy="292.2" r="1.95"/>
<circle cx="137.7" cy="285.3" r="1.95"/>
<circle cx="137.0" cy="296.9" r="1.95"/>
<circle cx="147.6" cy="312.1" r="1.95"/>
<circle cx="149.8" cy="284.8" r="1.95"/>
<circle cx="152.6" cy="285.6" r="1.95"/>
<circle cx="164.5" cy="282.4" r="1.95"/>
<circle cx="158.7" cy="286.9" r="1.95"/>
<circle cx="156.9" cy="290.0" r="1.95"/>
<circle cx="159.3" cy="295.0" r="1.95"/>
<circle cx="162.1" cy="294.4" r="1.95"/>
<circle cx="165.4" cy="296.7" r="1.95"/>
<circle cx="167.5" cy="291.6" r="1.95"/>
<circle cx="168.4" cy="291.1" r="1.95"/>
<circle cx="172.2" cy="286.7" r="1.95"/>
<circle cx="167.0" cy="300.0" r="1.95"/>
<circle cx="177.4" cy="299.2" r="1.95"/>
<circle cx="181.2" cy="293.5" r="1.95"/>
<circle cx="179.8" cy="287.8" r="1.95"/>
<circle cx="177.1" cy="284.4" r="1.95"/>
<circle cx="170.5" cy="279.2" r="1.95"/>
<circle cx="189.7" cy="264.2" r="1.95"/>
<circle cx="188.3" cy="273.6" r="1.95"/>
<circle cx="176.0" cy="291.0" r="1.95"/>
<circle cx="210.2" cy="262.2" r="1.95"/>
<circle cx="198.2" cy="252.6" r="1.95"/>
<circle cx="192.5" cy="259.1" r="1.95"/>
<circle cx="196.7" cy="261.3" r="1.95"/>
<circle cx="272.4" cy="230.4" r="1.95"/>
<circle cx="210.0" cy="249.5" r="1.95"/>
<circle cx="215.7" cy="251.8" r="1.95"/>
<circle cx="211.1" cy="253.7" r="1.95"/>
<circle cx="210.9" cy="258.1" r="1.95"/>
</g>
<line x1="114.5" y1="310.3" x2="271.9" y2="237.1" stroke="#000" stroke-width="2.9" stroke-linecap="round" clip-path="url(#cpB)"/>
<path d="M111.15 192.6V331.79999999999995M292.85 192.6V331.79999999999995M110.75 193.0H293.25M110.75 331.4H293.25" fill="none" stroke="#000" stroke-opacity="0.85" stroke-width="0.8"/>
<line x1="108.45" x2="111.15" y1="331.4" y2="331.4" stroke="#000" stroke-opacity="0.8" stroke-width="0.8"/>
<text x="105.2" y="339.6" font-size="20.7" text-anchor="end">0</text>
<line x1="108.45" x2="111.15" y1="296.8" y2="296.8" stroke="#000" stroke-opacity="0.8" stroke-width="0.8"/>
<text x="105.2" y="305.0" font-size="20.7" text-anchor="end">2</text>
<line x1="108.45" x2="111.15" y1="262.2" y2="262.2" stroke="#000" stroke-opacity="0.8" stroke-width="0.8"/>
<text x="105.2" y="270.4" font-size="20.7" text-anchor="end">4</text>
<line x1="108.45" x2="111.15" y1="227.6" y2="227.6" stroke="#000" stroke-opacity="0.8" stroke-width="0.8"/>
<text x="105.2" y="235.8" font-size="20.7" text-anchor="end">6</text>
<line x1="108.45" x2="111.15" y1="193.0" y2="193.0" stroke="#000" stroke-opacity="0.8" stroke-width="0.8"/>
<text x="105.2" y="201.2" font-size="20.7" text-anchor="end">8</text>
<line x1="114.5" x2="114.5" y1="331.4" y2="334.10" stroke="#000" stroke-opacity="0.8" stroke-width="0.8"/>
<line x1="149.8" x2="149.8" y1="331.4" y2="334.10" stroke="#000" stroke-opacity="0.8" stroke-width="0.8"/>
<line x1="185.1" x2="185.1" y1="331.4" y2="334.10" stroke="#000" stroke-opacity="0.8" stroke-width="0.8"/>
<line x1="220.3" x2="220.3" y1="331.4" y2="334.10" stroke="#000" stroke-opacity="0.8" stroke-width="0.8"/>
<line x1="255.6" x2="255.6" y1="331.4" y2="334.10" stroke="#000" stroke-opacity="0.8" stroke-width="0.8"/>
<line x1="290.9" x2="290.9" y1="331.4" y2="334.10" stroke="#000" stroke-opacity="0.8" stroke-width="0.8"/>
<text x="201.6" y="187.4" font-size="18.6" text-anchor="middle">B</text>
<text x="123.5" y="222.8" font-size="18.6">R²:0.76</text>
</g>
<g id="panelE">
<g fill="#1c78bc" fill-opacity="0.5" stroke="#1c78bc" stroke-opacity="0.5" stroke-width="1.5" clip-path="url(#cpE)">
<clipPath id="cpE"><rect x="321.85" y="193.0" width="181.3" height="138.4"/></clipPath>
<circle cx="324.5" cy="304.4" r="1.95"/>
<circle cx="323.6" cy="307.0" r="1.95"/>
<circle cx="325.3" cy="308.7" r="1.95"/>
<circle cx="324.5" cy="311.3" r="1.95"/>
<circle cx="323.6" cy="313.9" r="1.95"/>
<circle cx="325.3" cy="316.5" r="1.95"/>
<circle cx="324.5" cy="319.1" r="1.95"/>
<circle cx="325.3" cy="327.7" r="1.95"/>
<circle cx="332.2" cy="316.2" r="1.95"/>
<circle cx="327.1" cy="306.1" r="1.95"/>
<circle cx="329.7" cy="307.8" r="1.95"/>
<circle cx="331.4" cy="305.3" r="1.95"/>
<circle cx="334.0" cy="303.5" r="1.95"/>
<circle cx="336.6" cy="302.7" r="1.95"/>
<circle cx="339.2" cy="300.9" r="1.95"/>
<circle cx="341.8" cy="298.3" r="1.95"/>
<circle cx="342.6" cy="296.6" r="1.95"/>
<circle cx="347.0" cy="293.1" r="1.95"/>
<circle cx="349.5" cy="295.7" r="1.95"/>
<circle cx="354.7" cy="293.7" r="1.95"/>
<circle cx="353.0" cy="299.2" r="1.95"/>
<circle cx="355.6" cy="298.3" r="1.95"/>
<circle cx="358.2" cy="297.5" r="1.95"/>
<circle cx="345.2" cy="300.9" r="1.95"/>
<circle cx="347.8" cy="302.7" r="1.95"/>
<circle cx="350.4" cy="301.8" r="1.95"/>
<circle cx="340.0" cy="304.4" r="1.95"/>
<circle cx="337.4" cy="306.1" r="1.95"/>
<circle cx="360.8" cy="284.0" r="1.95"/>
<circle cx="363.4" cy="289.3" r="1.95"/>
<circle cx="365.1" cy="292.3" r="1.95"/>
<circle cx="367.7" cy="293.1" r="1.95"/>
<circle cx="370.3" cy="289.7" r="1.95"/>
<circle cx="372.0" cy="288.0" r="1.95"/>
<circle cx="373.8" cy="288.8" r="1.95"/>
<circle cx="375.5" cy="288.0" r="1.95"/>
<circle cx="377.2" cy="289.7" r="1.95"/>
<circle cx="379.0" cy="288.8" r="1.95"/>
<circle cx="380.7" cy="290.5" r="1.95"/>
<circle cx="372.9" cy="291.4" r="1.95"/>
<circle cx="370.3" cy="293.1" r="1.95"/>
<circle cx="367.7" cy="290.5" r="1.95"/>
<circle cx="374.6" cy="292.3" r="1.95"/>
<circle cx="377.2" cy="293.1" r="1.95"/>
<circle cx="379.8" cy="288.0" r="1.95"/>
<circle cx="382.4" cy="285.4" r="1.95"/>
<circle cx="383.3" cy="281.9" r="1.95"/>
<circle cx="385.0" cy="277.2" r="1.95"/>
<circle cx="385.9" cy="279.3" r="1.95"/>
<circle cx="387.6" cy="283.6" r="1.95"/>
<circle cx="390.2" cy="281.9" r="1.95"/>
<circle cx="391.9" cy="280.2" r="1.95"/>
<circle cx="394.5" cy="281.0" r="1.95"/>
<circle cx="386.7" cy="288.8" r="1.95"/>
<circle cx="389.3" cy="288.0" r="1.95"/>
<circle cx="392.8" cy="285.4" r="1.95"/>
<circle cx="395.4" cy="283.6" r="1.95"/>
<circle cx="398.0" cy="280.2" r="1.95"/>
<circle cx="400.6" cy="279.3" r="1.95"/>
<circle cx="403.2" cy="281.0" r="1.95"/>
<circle cx="405.8" cy="281.9" r="1.95"/>
<circle cx="408.4" cy="280.2" r="1.95"/>
<circle cx="411.0" cy="275.8" r="1.95"/>
<circle cx="411.0" cy="279.3" r="1.95"/>
<circle cx="381.6" cy="293.1" r="1.95"/>
<circle cx="366.0" cy="295.7" r="1.95"/>
<circle cx="335.7" cy="308.7" r="1.95"/>
<circle cx="340.0" cy="311.3" r="1.95"/>
<circle cx="343.5" cy="307.8" r="1.95"/>
<circle cx="352.1" cy="307.8" r="1.95"/>
<circle cx="353.0" cy="305.3" r="1.95"/>
<circle cx="359.9" cy="315.1" r="1.95"/>
<circle cx="363.4" cy="315.1" r="1.95"/>
<circle cx="373.8" cy="310.4" r="1.95"/>
<circle cx="375.5" cy="304.4" r="1.95"/>
<circle cx="379.0" cy="301.8" r="1.95"/>
<circle cx="377.2" cy="299.2" r="1.95"/>
<circle cx="384.1" cy="300.9" r="1.95"/>
<circle cx="388.5" cy="299.2" r="1.95"/>
<circle cx="391.1" cy="301.8" r="1.95"/>
<circle cx="393.7" cy="303.5" r="1.95"/>
<circle cx="387.6" cy="308.7" r="1.95"/>
<circle cx="380.7" cy="315.6" r="1.95"/>
<circle cx="384.1" cy="315.6" r="1.95"/>
<circle cx="386.4" cy="313.9" r="1.95"/>
<circle cx="395.4" cy="308.7" r="1.95"/>
<circle cx="397.1" cy="298.3" r="1.95"/>
<circle cx="398.9" cy="302.7" r="1.95"/>
<circle cx="400.6" cy="304.4" r="1.95"/>
<circle cx="404.9" cy="303.5" r="1.95"/>
<circle cx="407.5" cy="309.6" r="1.95"/>
<circle cx="411.0" cy="303.5" r="1.95"/>
<circle cx="402.3" cy="292.3" r="1.95"/>
<circle cx="406.6" cy="289.7" r="1.95"/>
<circle cx="409.2" cy="291.4" r="1.95"/>
<circle cx="398.0" cy="293.1" r="1.95"/>
<circle cx="416.3" cy="277.6" r="1.95"/>
<circle cx="419.8" cy="275.8" r="1.95"/>
<circle cx="429.3" cy="271.5" r="1.95"/>
<circle cx="428.4" cy="274.1" r="1.95"/>
<circle cx="437.1" cy="262.0" r="1.95"/>
<circle cx="446.9" cy="265.5" r="1.95"/>
<circle cx="455.3" cy="264.6" r="1.95"/>
<circle cx="453.5" cy="268.1" r="1.95"/>
<circle cx="451.8" cy="271.5" r="1.95"/>
<circle cx="463.9" cy="264.6" r="1.95"/>
<circle cx="471.7" cy="262.9" r="1.95"/>
<circle cx="463.0" cy="274.1" r="1.95"/>
<circle cx="469.1" cy="272.4" r="1.95"/>
<circle cx="470.8" cy="275.8" r="1.95"/>
<circle cx="465.6" cy="278.4" r="1.95"/>
<circle cx="461.3" cy="281.9" r="1.95"/>
<circle cx="463.9" cy="281.9" r="1.95"/>
<circle cx="478.6" cy="282.4" r="1.95"/>
<circle cx="450.9" cy="280.2" r="1.95"/>
<circle cx="448.3" cy="283.6" r="1.95"/>
<circle cx="447.5" cy="288.0" r="1.95"/>
<circle cx="450.9" cy="289.3" r="1.95"/>
<circle cx="441.4" cy="285.4" r="1.95"/>
<circle cx="435.4" cy="285.4" r="1.95"/>
<circle cx="433.6" cy="288.8" r="1.95"/>
<circle cx="425.8" cy="284.5" r="1.95"/>
<circle cx="427.6" cy="288.0" r="1.95"/>
<circle cx="422.4" cy="287.1" r="1.95"/>
<circle cx="419.8" cy="289.7" r="1.95"/>
<circle cx="423.2" cy="290.5" r="1.95"/>
<circle cx="421.5" cy="293.1" r="1.95"/>
<circle cx="424.1" cy="294.0" r="1.95"/>
<circle cx="418.9" cy="294.9" r="1.95"/>
<circle cx="414.6" cy="292.3" r="1.95"/>
<circle cx="412.0" cy="288.0" r="1.95"/>
<circle cx="416.3" cy="299.2" r="1.95"/>
<circle cx="420.7" cy="297.5" r="1.95"/>
<circle cx="424.1" cy="298.3" r="1.95"/>
<circle cx="430.2" cy="295.7" r="1.95"/>
<circle cx="427.6" cy="300.9" r="1.95"/>
<circle cx="413.7" cy="302.7" r="1.95"/>
<circle cx="418.1" cy="304.4" r="1.95"/>
<circle cx="422.4" cy="307.0" r="1.95"/>
<circle cx="426.7" cy="306.1" r="1.95"/>
<circle cx="428.4" cy="308.7" r="1.95"/>
<circle cx="429.3" cy="309.6" r="1.95"/>
<circle cx="417.2" cy="312.5" r="1.95"/>
<circle cx="434.5" cy="311.3" r="1.95"/>
<circle cx="438.0" cy="300.1" r="1.95"/>
<circle cx="440.5" cy="298.3" r="1.95"/>
<circle cx="444.9" cy="298.3" r="1.95"/>
<circle cx="438.8" cy="302.7" r="1.95"/>
<circle cx="448.3" cy="300.9" r="1.95"/>
<circle cx="486.4" cy="268.1" r="1.95"/>
<circle cx="489.0" cy="267.2" r="1.95"/>
<circle cx="491.6" cy="268.9" r="1.95"/>
<circle cx="494.2" cy="270.7" r="1.95"/>
<circle cx="488.1" cy="270.7" r="1.95"/>
<circle cx="490.7" cy="266.3" r="1.95"/>
<circle cx="496.8" cy="273.2" r="1.95"/>
<circle cx="499.4" cy="275.0" r="1.95"/>
<circle cx="502.0" cy="274.1" r="1.95"/>
<circle cx="487.3" cy="272.4" r="1.95"/>
<circle cx="497.6" cy="263.7" r="1.95"/>
<circle cx="501.1" cy="268.9" r="1.95"/>
<circle cx="495.0" cy="299.5" r="1.95"/>
<circle cx="499.4" cy="301.4" r="1.95"/>
<circle cx="501.6" cy="302.7" r="1.95"/>
<circle cx="495.9" cy="327.7" r="1.95"/>
<circle cx="499.4" cy="209.8" r="1.95"/>
<circle cx="499.4" cy="217.2" r="1.95"/>
<circle cx="500.2" cy="224.1" r="1.95"/>
<circle cx="499.9" cy="227.6" r="1.95"/>
<circle cx="499.4" cy="230.2" r="1.95"/>
<circle cx="498.5" cy="234.5" r="1.95"/>
<circle cx="493.3" cy="237.1" r="1.95"/>
<circle cx="493.0" cy="241.1" r="1.95"/>
<circle cx="499.4" cy="242.3" r="1.95"/>
<circle cx="497.6" cy="246.6" r="1.95"/>
<circle cx="491.9" cy="249.2" r="1.95"/>
<circle cx="487.3" cy="251.0" r="1.95"/>
<circle cx="480.9" cy="244.4" r="1.95"/>
<circle cx="475.1" cy="248.4" r="1.95"/>
<circle cx="478.6" cy="251.0" r="1.95"/>
<circle cx="481.2" cy="253.6" r="1.95"/>
<circle cx="476.9" cy="254.4" r="1.95"/>
<circle cx="474.3" cy="255.3" r="1.95"/>
<circle cx="472.6" cy="258.7" r="1.95"/>
<circle cx="470.0" cy="260.5" r="1.95"/>
<circle cx="459.6" cy="248.0" r="1.95"/>
<circle cx="461.8" cy="249.2" r="1.95"/>
<circle cx="463.9" cy="254.4" r="1.95"/>
<circle cx="461.3" cy="255.3" r="1.95"/>
<circle cx="459.6" cy="257.0" r="1.95"/>
<circle cx="464.8" cy="256.1" r="1.95"/>
<circle cx="446.6" cy="250.6" r="1.95"/>
<circle cx="442.8" cy="257.9" r="1.95"/>
<circle cx="453.5" cy="260.5" r="1.95"/>
<circle cx="477.7" cy="259.6" r="1.95"/>
<circle cx="488.1" cy="258.7" r="1.95"/>
<circle cx="491.6" cy="256.1" r="1.95"/>
<circle cx="498.5" cy="256.1" r="1.95"/>
<circle cx="496.8" cy="252.7" r="1.95"/>
<circle cx="324.1" cy="308.1" r="1.95"/>
<circle cx="325.1" cy="316.4" r="1.95"/>
<circle cx="329.1" cy="307.8" r="1.95"/>
<circle cx="331.4" cy="304.1" r="1.95"/>
<circle cx="338.1" cy="302.4" r="1.95"/>
<circle cx="340.8" cy="302.1" r="1.95"/>
<circle cx="343.3" cy="299.5" r="1.95"/>
<circle cx="348.9" cy="302.4" r="1.95"/>
<circle cx="338.0" cy="306.1" r="1.95"/>
<circle cx="365.7" cy="292.6" r="1.95"/>
<circle cx="370.2" cy="290.1" r="1.95"/>
<circle cx="373.3" cy="286.6" r="1.95"/>
<circle cx="374.4" cy="289.6" r="1.95"/>
<circle cx="379.6" cy="288.2" r="1.95"/>
<circle cx="372.5" cy="290.2" r="1.95"/>
<circle cx="367.8" cy="290.2" r="1.95"/>
<circle cx="377.9" cy="291.8" r="1.95"/>
<circle cx="382.3" cy="284.2" r="1.95"/>
<circle cx="384.7" cy="279.9" r="1.95"/>
<circle cx="391.5" cy="286.9" r="1.95"/>
<circle cx="408.9" cy="280.2" r="1.95"/>
<circle cx="427.8" cy="287.8" r="1.95"/>
<circle cx="416.6" cy="298.0" r="1.95"/>
<circle cx="421.0" cy="296.4" r="1.95"/>
<circle cx="423.3" cy="299.2" r="1.95"/>
<circle cx="425.2" cy="305.1" r="1.95"/>
<circle cx="439.6" cy="299.5" r="1.95"/>
<circle cx="490.1" cy="266.0" r="1.95"/>
<circle cx="492.2" cy="270.3" r="1.95"/>
<circle cx="490.1" cy="267.0" r="1.95"/>
<circle cx="496.3" cy="272.2" r="1.95"/>
<circle cx="503.1" cy="275.1" r="1.95"/>
<circle cx="477.6" cy="254.2" r="1.95"/>
</g>
<line x1="325.0" y1="312.5" x2="501.5" y2="258.9" stroke="#000" stroke-width="2.9" stroke-linecap="round" clip-path="url(#cpE)"/>
<path d="M321.85 192.6V331.79999999999995M503.2 192.6V331.79999999999995M321.45000000000005 193.0H503.59999999999997M321.45000000000005 331.4H503.59999999999997" fill="none" stroke="#000" stroke-opacity="0.85" stroke-width="0.8"/>
<line x1="319.15" x2="321.85" y1="331.4" y2="331.4" stroke="#000" stroke-opacity="0.8" stroke-width="0.8"/>
<line x1="319.15" x2="321.85" y1="296.8" y2="296.8" stroke="#000" stroke-opacity="0.8" stroke-width="0.8"/>
<line x1="319.15" x2="321.85" y1="262.2" y2="262.2" stroke="#000" stroke-opacity="0.8" stroke-width="0.8"/>
<line x1="319.15" x2="321.85" y1="227.6" y2="227.6" stroke="#000" stroke-opacity="0.8" stroke-width="0.8"/>
<line x1="319.15" x2="321.85" y1="193.0" y2="193.0" stroke="#000" stroke-opacity="0.8" stroke-width="0.8"/>
<line x1="325.0" x2="325.0" y1="331.4" y2="334.10" stroke="#000" stroke-opacity="0.8" stroke-width="0.8"/>
<line x1="360.3" x2="360.3" y1="331.4" y2="334.10" stroke="#000" stroke-opacity="0.8" stroke-width="0.8"/>
<line x1="395.6" x2="395.6" y1="331.4" y2="334.10" stroke="#000" stroke-opacity="0.8" stroke-width="0.8"/>
<line x1="430.9" x2="430.9" y1="331.4" y2="334.10" stroke="#000" stroke-opacity="0.8" stroke-width="0.8"/>
<line x1="466.2" x2="466.2" y1="331.4" y2="334.10" stroke="#000" stroke-opacity="0.8" stroke-width="0.8"/>
<line x1="501.5" x2="501.5" y1="331.4" y2="334.10" stroke="#000" stroke-opacity="0.8" stroke-width="0.8"/>
<text x="412.1" y="187.4" font-size="18.6" text-anchor="middle">E</text>
<text x="334.2" y="222.8" font-size="18.6">R²:0.58</text>
</g>
<g id="panelC">
<g fill="#1c78bc" fill-opacity="0.5" stroke="#1c78bc" stroke-opacity="0.5" stroke-width="1.5" clip-path="url(#cpC)">
<clipPath id="cpC"><rect x="111.15" y="360.0" width="181.7" height="138.4"/></clipPath>
<circle cx="114.5" cy="370.4" r="1.95"/>
<circle cx="114.5" cy="378.5" r="1.95"/>
<circle cx="114.5" cy="383.0" r="1.95"/>
<circle cx="122.2" cy="411.9" r="1.95"/>
<circle cx="114.5" cy="416.2" r="1.95"/>
<circle cx="114.5" cy="423.5" r="1.95"/>
<circle cx="134.0" cy="429.0" r="1.95"/>
<circle cx="124.5" cy="433.7" r="1.95"/>
<circle cx="116.7" cy="439.4" r="1.95"/>
<circle cx="114.5" cy="441.5" r="1.95"/>
<circle cx="126.1" cy="444.1" r="1.95"/>
<circle cx="127.4" cy="451.8" r="1.95"/>
<circle cx="128.6" cy="457.2" r="1.95"/>
<circle cx="127.4" cy="463.3" r="1.95"/>
<circle cx="124.0" cy="467.1" r="1.95"/>
<circle cx="128.6" cy="472.6" r="1.95"/>
<circle cx="132.6" cy="473.1" r="1.95"/>
<circle cx="126.6" cy="473.6" r="1.95"/>
<circle cx="123.5" cy="474.5" r="1.95"/>
<circle cx="124.8" cy="478.3" r="1.95"/>
<circle cx="121.4" cy="480.6" r="1.95"/>
<circle cx="124.8" cy="482.6" r="1.95"/>
<circle cx="131.8" cy="480.0" r="1.95"/>
<circle cx="135.6" cy="478.7" r="1.95"/>
<circle cx="139.5" cy="481.8" r="1.95"/>
<circle cx="135.2" cy="484.4" r="1.95"/>
<circle cx="131.8" cy="484.4" r="1.95"/>
<circle cx="129.2" cy="484.4" r="1.95"/>
<circle cx="127.4" cy="487.0" r="1.95"/>
<circle cx="130.9" cy="487.8" r="1.95"/>
<circle cx="133.5" cy="487.0" r="1.95"/>
<circle cx="137.0" cy="487.0" r="1.95"/>
<circle cx="140.4" cy="486.1" r="1.95"/>
<circle cx="143.9" cy="484.4" r="1.95"/>
<circle cx="147.3" cy="486.1" r="1.95"/>
<circle cx="121.4" cy="493.9" r="1.95"/>
<circle cx="135.2" cy="493.9" r="1.95"/>
<circle cx="146.5" cy="494.4" r="1.95"/>
<circle cx="136.8" cy="488.5" r="1.95"/>
<circle cx="143.5" cy="488.0" r="1.95"/>
<circle cx="141.1" cy="489.7" r="1.95"/>
<circle cx="131.2" cy="490.4" r="1.95"/>
<circle cx="130.7" cy="490.1" r="1.95"/>
<circle cx="131.4" cy="488.2" r="1.95"/>
<circle cx="138.9" cy="492.1" r="1.95"/>
<circle cx="132.6" cy="488.9" r="1.95"/>
<circle cx="143.0" cy="492.8" r="1.95"/>
<circle cx="142.0" cy="489.9" r="1.95"/>
<circle cx="150.3" cy="487.8" r="1.95"/>
<circle cx="147.9" cy="489.2" r="1.95"/>
<circle cx="133.0" cy="488.3" r="1.95"/>
<circle cx="136.4" cy="492.1" r="1.95"/>
<circle cx="133.8" cy="490.9" r="1.95"/>
<circle cx="143.4" cy="489.7" r="1.95"/>
<circle cx="141.4" cy="488.0" r="1.95"/>
<circle cx="131.2" cy="488.9" r="1.95"/>
<circle cx="144.2" cy="490.1" r="1.95"/>
<circle cx="136.6" cy="490.9" r="1.95"/>
<circle cx="139.4" cy="489.4" r="1.95"/>
<circle cx="146.5" cy="491.5" r="1.95"/>
<circle cx="135.0" cy="490.8" r="1.95"/>
<circle cx="140.9" cy="492.5" r="1.95"/>
<circle cx="188.0" cy="491.8" r="1.95"/>
<circle cx="201.0" cy="491.3" r="1.95"/>
<circle cx="171.7" cy="493.4" r="1.95"/>
<circle cx="157.9" cy="492.5" r="1.95"/>
<circle cx="152.0" cy="493.0" r="1.95"/>
<circle cx="189.7" cy="492.7" r="1.95"/>
<circle cx="195.6" cy="492.0" r="1.95"/>
<circle cx="186.1" cy="492.8" r="1.95"/>
<circle cx="180.2" cy="492.3" r="1.95"/>
<circle cx="193.7" cy="493.9" r="1.95"/>
<circle cx="174.7" cy="493.0" r="1.95"/>
<circle cx="153.0" cy="493.2" r="1.95"/>
<circle cx="183.7" cy="494.1" r="1.95"/>
<circle cx="192.7" cy="491.8" r="1.95"/>
<circle cx="170.0" cy="493.0" r="1.95"/>
<circle cx="151.1" cy="492.3" r="1.95"/>
<circle cx="158.8" cy="491.3" r="1.95"/>
<circle cx="153.0" cy="493.4" r="1.95"/>
<circle cx="156.7" cy="491.6" r="1.95"/>
<circle cx="170.3" cy="493.7" r="1.95"/>
<circle cx="154.1" cy="492.3" r="1.95"/>
<circle cx="178.5" cy="493.7" r="1.95"/>
<circle cx="192.7" cy="493.7" r="1.95"/>
<circle cx="164.5" cy="492.1" r="1.95"/>
<circle cx="168.6" cy="493.7" r="1.95"/>
<circle cx="199.8" cy="491.5" r="1.95"/>
<circle cx="159.1" cy="491.6" r="1.95"/>
<circle cx="162.0" cy="492.5" r="1.95"/>
<circle cx="180.6" cy="491.8" r="1.95"/>
<circle cx="150.1" cy="492.3" r="1.95"/>
<circle cx="169.1" cy="492.7" r="1.95"/>
<circle cx="199.6" cy="493.0" r="1.95"/>
<circle cx="176.7" cy="492.8" r="1.95"/>
<circle cx="185.2" cy="491.1" r="1.95"/>
<circle cx="196.8" cy="493.4" r="1.95"/>
<circle cx="195.4" cy="493.4" r="1.95"/>
<circle cx="170.3" cy="492.1" r="1.95"/>
<circle cx="155.3" cy="492.8" r="1.95"/>
<circle cx="153.2" cy="491.1" r="1.95"/>
<circle cx="160.8" cy="491.5" r="1.95"/>
<circle cx="167.6" cy="491.1" r="1.95"/>
<circle cx="149.9" cy="491.5" r="1.95"/>
<circle cx="155.3" cy="492.1" r="1.95"/>
<circle cx="151.3" cy="493.7" r="1.95"/>
<circle cx="181.9" cy="491.5" r="1.95"/>
<circle cx="163.1" cy="492.0" r="1.95"/>
<circle cx="169.0" cy="491.3" r="1.95"/>
<circle cx="194.2" cy="494.1" r="1.95"/>
<circle cx="174.1" cy="492.5" r="1.95"/>
<circle cx="154.4" cy="491.3" r="1.95"/>
<circle cx="167.7" cy="491.8" r="1.95"/>
<circle cx="193.0" cy="491.5" r="1.95"/>
<circle cx="151.1" cy="493.9" r="1.95"/>
<circle cx="177.4" cy="491.5" r="1.95"/>
<circle cx="178.1" cy="490.9" r="1.95"/>
<circle cx="177.4" cy="494.1" r="1.95"/>
<circle cx="194.9" cy="493.2" r="1.95"/>
<circle cx="163.6" cy="492.1" r="1.95"/>
<circle cx="158.6" cy="493.4" r="1.95"/>
<circle cx="177.6" cy="493.4" r="1.95"/>
<circle cx="167.1" cy="491.6" r="1.95"/>
<circle cx="192.1" cy="494.1" r="1.95"/>
<circle cx="194.4" cy="493.5" r="1.95"/>
<circle cx="192.5" cy="493.2" r="1.95"/>
<circle cx="161.7" cy="492.5" r="1.95"/>
<circle cx="168.4" cy="491.1" r="1.95"/>
<circle cx="151.3" cy="491.8" r="1.95"/>
<circle cx="163.4" cy="493.0" r="1.95"/>
<circle cx="199.8" cy="492.3" r="1.95"/>
<circle cx="198.7" cy="494.1" r="1.95"/>
<circle cx="199.6" cy="492.1" r="1.95"/>
<circle cx="161.3" cy="491.6" r="1.95"/>
<circle cx="160.1" cy="491.6" r="1.95"/>
<circle cx="182.5" cy="493.7" r="1.95"/>
<circle cx="193.7" cy="492.5" r="1.95"/>
<circle cx="184.0" cy="493.4" r="1.95"/>
<circle cx="154.4" cy="493.0" r="1.95"/>
<circle cx="197.3" cy="493.4" r="1.95"/>
<circle cx="189.0" cy="492.5" r="1.95"/>
<circle cx="159.3" cy="493.4" r="1.95"/>
<circle cx="167.2" cy="493.4" r="1.95"/>
<circle cx="200.4" cy="492.1" r="1.95"/>
<circle cx="170.9" cy="493.9" r="1.95"/>
<circle cx="187.6" cy="491.5" r="1.95"/>
<circle cx="156.5" cy="491.5" r="1.95"/>
<circle cx="197.0" cy="493.5" r="1.95"/>
<circle cx="157.5" cy="493.5" r="1.95"/>
<circle cx="201.0" cy="493.0" r="1.95"/>
<circle cx="168.1" cy="492.7" r="1.95"/>
<circle cx="156.7" cy="490.9" r="1.95"/>
<circle cx="200.4" cy="493.0" r="1.95"/>
<circle cx="177.4" cy="493.9" r="1.95"/>
<circle cx="172.6" cy="493.7" r="1.95"/>
<circle cx="193.0" cy="491.6" r="1.95"/>
<circle cx="163.1" cy="491.8" r="1.95"/>
<circle cx="162.4" cy="492.8" r="1.95"/>
<circle cx="163.4" cy="492.3" r="1.95"/>
<circle cx="156.7" cy="493.7" r="1.95"/>
<circle cx="168.3" cy="492.3" r="1.95"/>
<circle cx="180.4" cy="493.7" r="1.95"/>
<circle cx="210.7" cy="494.7" r="1.95"/>
<circle cx="212.4" cy="492.8" r="1.95"/>
<circle cx="212.9" cy="490.4" r="1.95"/>
<circle cx="211.2" cy="491.1" r="1.95"/>
<circle cx="205.6" cy="492.5" r="1.95"/>
<circle cx="217.1" cy="493.0" r="1.95"/>
<circle cx="208.7" cy="492.8" r="1.95"/>
<circle cx="213.6" cy="494.1" r="1.95"/>
<circle cx="204.2" cy="493.0" r="1.95"/>
<circle cx="207.2" cy="491.6" r="1.95"/>
<circle cx="218.1" cy="492.7" r="1.95"/>
<circle cx="213.6" cy="493.9" r="1.95"/>
<circle cx="220.9" cy="492.3" r="1.95"/>
<circle cx="214.8" cy="492.7" r="1.95"/>
<circle cx="212.6" cy="493.5" r="1.95"/>
<circle cx="211.3" cy="492.8" r="1.95"/>
<circle cx="211.9" cy="494.7" r="1.95"/>
<circle cx="216.5" cy="494.6" r="1.95"/>
<circle cx="221.6" cy="491.5" r="1.95"/>
<circle cx="213.6" cy="494.7" r="1.95"/>
<circle cx="219.5" cy="490.9" r="1.95"/>
<circle cx="204.6" cy="492.3" r="1.95"/>
<circle cx="203.6" cy="491.5" r="1.95"/>
<circle cx="203.6" cy="493.5" r="1.95"/>
<circle cx="218.3" cy="494.6" r="1.95"/>
<circle cx="205.3" cy="493.7" r="1.95"/>
<circle cx="215.7" cy="490.9" r="1.95"/>
<circle cx="220.3" cy="494.9" r="1.95"/>
<circle cx="206.5" cy="494.9" r="1.95"/>
<circle cx="210.3" cy="492.7" r="1.95"/>
<circle cx="222.6" cy="494.2" r="1.95"/>
<circle cx="205.3" cy="492.3" r="1.95"/>
<circle cx="212.7" cy="491.8" r="1.95"/>
<circle cx="206.0" cy="491.8" r="1.95"/>
<circle cx="239.0" cy="492.0" r="1.95"/>
<circle cx="235.2" cy="493.0" r="1.95"/>
<circle cx="223.1" cy="492.8" r="1.95"/>
<circle cx="236.8" cy="493.2" r="1.95"/>
<circle cx="224.1" cy="494.4" r="1.95"/>
<circle cx="240.4" cy="494.4" r="1.95"/>
<circle cx="225.2" cy="492.7" r="1.95"/>
<circle cx="223.6" cy="493.9" r="1.95"/>
<circle cx="228.8" cy="492.3" r="1.95"/>
<circle cx="232.3" cy="494.2" r="1.95"/>
<circle cx="241.1" cy="492.7" r="1.95"/>
<circle cx="226.0" cy="494.2" r="1.95"/>
<circle cx="235.6" cy="493.7" r="1.95"/>
<circle cx="224.8" cy="492.1" r="1.95"/>
<circle cx="238.2" cy="493.0" r="1.95"/>
<circle cx="224.3" cy="494.2" r="1.95"/>
<circle cx="236.9" cy="493.9" r="1.95"/>
<circle cx="224.7" cy="494.1" r="1.95"/>
<circle cx="224.3" cy="494.1" r="1.95"/>
<circle cx="233.0" cy="492.8" r="1.95"/>
<circle cx="235.2" cy="494.2" r="1.95"/>
<circle cx="228.8" cy="492.3" r="1.95"/>
<circle cx="234.5" cy="492.5" r="1.95"/>
<circle cx="225.2" cy="492.3" r="1.95"/>
<circle cx="224.0" cy="492.5" r="1.95"/>
<circle cx="229.9" cy="492.7" r="1.95"/>
<circle cx="239.9" cy="492.7" r="1.95"/>
<circle cx="234.0" cy="492.3" r="1.95"/>
<circle cx="230.5" cy="492.0" r="1.95"/>
<circle cx="228.5" cy="492.0" r="1.95"/>
<circle cx="249.6" cy="492.7" r="1.95"/>
<circle cx="269.0" cy="493.0" r="1.95"/>
<circle cx="261.3" cy="492.8" r="1.95"/>
<circle cx="271.7" cy="492.0" r="1.95"/>
<circle cx="270.2" cy="492.7" r="1.95"/>
<circle cx="265.7" cy="493.5" r="1.95"/>
<circle cx="264.1" cy="492.8" r="1.95"/>
<circle cx="268.3" cy="493.9" r="1.95"/>
<circle cx="263.4" cy="493.5" r="1.95"/>
<circle cx="268.6" cy="493.2" r="1.95"/>
<circle cx="264.3" cy="492.5" r="1.95"/>
<circle cx="259.4" cy="492.1" r="1.95"/>
<circle cx="259.8" cy="493.4" r="1.95"/>
<circle cx="262.2" cy="492.1" r="1.95"/>
<circle cx="260.0" cy="493.5" r="1.95"/>
<circle cx="270.9" cy="493.2" r="1.95"/>
<circle cx="262.7" cy="492.3" r="1.95"/>
</g>
<path d="M111.15 359.6V498.79999999999995M292.85 359.6V498.79999999999995M110.75 360.0H293.25M110.75 498.4H293.25" fill="none" stroke="#000" stroke-opacity="0.85" stroke-width="0.8"/>
<line x1="108.45" x2="111.15" y1="498.4" y2="498.4" stroke="#000" stroke-opacity="0.8" stroke-width="0.8"/>
<text x="105.2" y="506.6" font-size="20.7" text-anchor="end">0</text>
<line x1="108.45" x2="111.15" y1="470.7" y2="470.7" stroke="#000" stroke-opacity="0.8" stroke-width="0.8"/>
<text x="105.2" y="478.9" font-size="20.7" text-anchor="end">2</text>
<line x1="108.45" x2="111.15" y1="443.0" y2="443.0" stroke="#000" stroke-opacity="0.8" stroke-width="0.8"/>
<text x="105.2" y="451.2" font-size="20.7" text-anchor="end">4</text>
<line x1="108.45" x2="111.15" y1="415.4" y2="415.4" stroke="#000" stroke-opacity="0.8" stroke-width="0.8"/>
<text x="105.2" y="423.6" font-size="20.7" text-anchor="end">6</text>
<line x1="108.45" x2="111.15" y1="387.7" y2="387.7" stroke="#000" stroke-opacity="0.8" stroke-width="0.8"/>
<text x="105.2" y="395.9" font-size="20.7" text-anchor="end">8</text>
<line x1="108.45" x2="111.15" y1="360.0" y2="360.0" stroke="#000" stroke-opacity="0.8" stroke-width="0.8"/>
<text x="105.2" y="368.2" font-size="20.7" text-anchor="end">10</text>
<line x1="114.5" x2="114.5" y1="498.4" y2="501.10" stroke="#000" stroke-opacity="0.8" stroke-width="0.8"/>
<text x="114.5" y="520.0" font-size="20.7" text-anchor="middle">0</text>
<line x1="149.8" x2="149.8" y1="498.4" y2="501.10" stroke="#000" stroke-opacity="0.8" stroke-width="0.8"/>
<text x="149.8" y="520.0" font-size="20.7" text-anchor="middle">20</text>
<line x1="185.1" x2="185.1" y1="498.4" y2="501.10" stroke="#000" stroke-opacity="0.8" stroke-width="0.8"/>
<text x="185.1" y="520.0" font-size="20.7" text-anchor="middle">40</text>
<line x1="220.3" x2="220.3" y1="498.4" y2="501.10" stroke="#000" stroke-opacity="0.8" stroke-width="0.8"/>
<text x="220.3" y="520.0" font-size="20.7" text-anchor="middle">60</text>
<line x1="255.6" x2="255.6" y1="498.4" y2="501.10" stroke="#000" stroke-opacity="0.8" stroke-width="0.8"/>
<text x="255.6" y="520.0" font-size="20.7" text-anchor="middle">80</text>
<line x1="290.9" x2="290.9" y1="498.4" y2="501.10" stroke="#000" stroke-opacity="0.8" stroke-width="0.8"/>
<text x="290.9" y="520.0" font-size="20.7" text-anchor="middle">100</text>
<text x="201.6" y="354.4" font-size="18.6" text-anchor="middle">C</text>
</g>
<g id="panelF">
<g fill="#1c78bc" fill-opacity="0.5" stroke="#1c78bc" stroke-opacity="0.5" stroke-width="1.5" clip-path="url(#cpF)">
<clipPath id="cpF"><rect x="321.85" y="360.0" width="181.3" height="138.4"/></clipPath>
<circle cx="325.3" cy="370.4" r="1.95"/>
<circle cx="325.3" cy="378.5" r="1.95"/>
<circle cx="325.3" cy="383.0" r="1.95"/>
<circle cx="334.8" cy="411.9" r="1.95"/>
<circle cx="325.3" cy="416.2" r="1.95"/>
<circle cx="325.3" cy="423.5" r="1.95"/>
<circle cx="352.1" cy="429.0" r="1.95"/>
<circle cx="340.9" cy="433.7" r="1.95"/>
<circle cx="331.9" cy="439.4" r="1.95"/>
<circle cx="325.3" cy="441.5" r="1.95"/>
<circle cx="346.1" cy="444.1" r="1.95"/>
<circle cx="343.0" cy="451.8" r="1.95"/>
<circle cx="352.1" cy="457.2" r="1.95"/>
<circle cx="347.3" cy="463.3" r="1.95"/>
<circle cx="336.2" cy="467.1" r="1.95"/>
<circle cx="351.3" cy="473.1" r="1.95"/>
<circle cx="351.3" cy="474.8" r="1.95"/>
<circle cx="359.4" cy="473.1" r="1.95"/>
<circle cx="335.7" cy="474.3" r="1.95"/>
<circle cx="340.0" cy="478.0" r="1.95"/>
<circle cx="341.4" cy="481.8" r="1.95"/>
<circle cx="343.1" cy="483.5" r="1.95"/>
<circle cx="345.2" cy="483.2" r="1.95"/>
<circle cx="353.0" cy="479.2" r="1.95"/>
<circle cx="350.4" cy="481.8" r="1.95"/>
<circle cx="349.5" cy="484.7" r="1.95"/>
<circle cx="355.6" cy="482.6" r="1.95"/>
<circle cx="354.7" cy="485.7" r="1.95"/>
<circle cx="359.1" cy="484.4" r="1.95"/>
<circle cx="361.7" cy="487.0" r="1.95"/>
<circle cx="364.3" cy="487.8" r="1.95"/>
<circle cx="366.8" cy="486.1" r="1.95"/>
<circle cx="363.4" cy="489.6" r="1.95"/>
<circle cx="367.7" cy="489.2" r="1.95"/>
<circle cx="370.3" cy="489.6" r="1.95"/>
<circle cx="372.9" cy="490.4" r="1.95"/>
<circle cx="375.5" cy="485.2" r="1.95"/>
<circle cx="376.4" cy="488.7" r="1.95"/>
<circle cx="379.0" cy="489.6" r="1.95"/>
<circle cx="380.7" cy="487.0" r="1.95"/>
<circle cx="383.3" cy="488.7" r="1.95"/>
<circle cx="385.9" cy="490.4" r="1.95"/>
<circle cx="388.5" cy="487.0" r="1.95"/>
<circle cx="387.6" cy="491.3" r="1.95"/>
<circle cx="390.2" cy="490.4" r="1.95"/>
<circle cx="392.8" cy="489.6" r="1.95"/>
<circle cx="395.4" cy="489.2" r="1.95"/>
<circle cx="398.0" cy="491.3" r="1.95"/>
<circle cx="400.6" cy="492.1" r="1.95"/>
<circle cx="403.2" cy="490.4" r="1.95"/>
<circle cx="405.8" cy="491.3" r="1.95"/>
<circle cx="408.4" cy="490.4" r="1.95"/>
<circle cx="411.0" cy="491.3" r="1.95"/>
<circle cx="374.6" cy="493.0" r="1.95"/>
<circle cx="379.8" cy="493.4" r="1.95"/>
<circle cx="384.1" cy="493.9" r="1.95"/>
<circle cx="386.7" cy="494.4" r="1.95"/>
<circle cx="398.9" cy="493.9" r="1.95"/>
<circle cx="404.0" cy="493.4" r="1.95"/>
<circle cx="409.2" cy="493.0" r="1.95"/>
<circle cx="371.2" cy="491.3" r="1.95"/>
<circle cx="378.1" cy="491.3" r="1.95"/>
<circle cx="391.9" cy="492.1" r="1.95"/>
<circle cx="394.5" cy="491.3" r="1.95"/>
<circle cx="384.8" cy="491.1" r="1.95"/>
<circle cx="408.2" cy="490.8" r="1.95"/>
<circle cx="387.6" cy="491.3" r="1.95"/>
<circle cx="371.7" cy="490.9" r="1.95"/>
<circle cx="393.7" cy="492.1" r="1.95"/>
<circle cx="367.2" cy="490.1" r="1.95"/>
<circle cx="367.0" cy="492.1" r="1.95"/>
<circle cx="396.8" cy="489.0" r="1.95"/>
<circle cx="411.1" cy="492.8" r="1.95"/>
<circle cx="394.9" cy="491.5" r="1.95"/>
<circle cx="370.3" cy="488.9" r="1.95"/>
<circle cx="388.6" cy="489.0" r="1.95"/>
<circle cx="371.9" cy="489.9" r="1.95"/>
<circle cx="364.1" cy="490.8" r="1.95"/>
<circle cx="384.3" cy="492.3" r="1.95"/>
<circle cx="388.1" cy="491.5" r="1.95"/>
<circle cx="387.3" cy="491.6" r="1.95"/>
<circle cx="385.2" cy="490.1" r="1.95"/>
<circle cx="411.8" cy="493.0" r="1.95"/>
<circle cx="404.0" cy="491.8" r="1.95"/>
<circle cx="378.1" cy="489.9" r="1.95"/>
<circle cx="376.9" cy="489.2" r="1.95"/>
<circle cx="400.4" cy="490.6" r="1.95"/>
<circle cx="404.4" cy="490.4" r="1.95"/>
<circle cx="409.9" cy="492.3" r="1.95"/>
<circle cx="362.5" cy="489.7" r="1.95"/>
<circle cx="407.5" cy="490.8" r="1.95"/>
<circle cx="411.0" cy="490.6" r="1.95"/>
<circle cx="366.2" cy="491.5" r="1.95"/>
<circle cx="401.1" cy="489.9" r="1.95"/>
<circle cx="366.8" cy="490.2" r="1.95"/>
<circle cx="410.3" cy="492.0" r="1.95"/>
<circle cx="368.4" cy="489.9" r="1.95"/>
<circle cx="367.5" cy="489.0" r="1.95"/>
<circle cx="402.0" cy="489.6" r="1.95"/>
<circle cx="390.2" cy="490.8" r="1.95"/>
<circle cx="372.0" cy="492.0" r="1.95"/>
<circle cx="368.9" cy="491.5" r="1.95"/>
<circle cx="368.2" cy="490.6" r="1.95"/>
<circle cx="373.1" cy="489.9" r="1.95"/>
<circle cx="410.6" cy="492.1" r="1.95"/>
<circle cx="377.6" cy="492.5" r="1.95"/>
<circle cx="372.9" cy="490.4" r="1.95"/>
<circle cx="404.7" cy="491.5" r="1.95"/>
<circle cx="367.5" cy="493.0" r="1.95"/>
<circle cx="417.5" cy="491.1" r="1.95"/>
<circle cx="432.1" cy="491.5" r="1.95"/>
<circle cx="419.6" cy="490.2" r="1.95"/>
<circle cx="414.4" cy="492.7" r="1.95"/>
<circle cx="418.2" cy="492.8" r="1.95"/>
<circle cx="421.7" cy="492.1" r="1.95"/>
<circle cx="436.9" cy="492.3" r="1.95"/>
<circle cx="426.9" cy="494.1" r="1.95"/>
<circle cx="416.7" cy="490.6" r="1.95"/>
<circle cx="435.5" cy="493.9" r="1.95"/>
<circle cx="418.4" cy="490.8" r="1.95"/>
<circle cx="431.2" cy="494.4" r="1.95"/>
<circle cx="417.0" cy="494.6" r="1.95"/>
<circle cx="434.8" cy="492.8" r="1.95"/>
<circle cx="422.9" cy="490.4" r="1.95"/>
<circle cx="418.2" cy="493.4" r="1.95"/>
<circle cx="418.7" cy="493.9" r="1.95"/>
<circle cx="427.4" cy="491.3" r="1.95"/>
<circle cx="416.5" cy="493.4" r="1.95"/>
<circle cx="426.5" cy="494.1" r="1.95"/>
<circle cx="427.9" cy="491.3" r="1.95"/>
<circle cx="435.9" cy="490.9" r="1.95"/>
<circle cx="423.6" cy="490.2" r="1.95"/>
<circle cx="416.5" cy="491.6" r="1.95"/>
<circle cx="426.9" cy="490.6" r="1.95"/>
<circle cx="421.3" cy="494.2" r="1.95"/>
<circle cx="437.4" cy="493.0" r="1.95"/>
<circle cx="430.0" cy="492.7" r="1.95"/>
<circle cx="415.6" cy="490.1" r="1.95"/>
<circle cx="430.2" cy="494.6" r="1.95"/>
<circle cx="424.5" cy="493.4" r="1.95"/>
<circle cx="420.3" cy="494.7" r="1.95"/>
<circle cx="431.2" cy="494.2" r="1.95"/>
<circle cx="431.2" cy="493.4" r="1.95"/>
<circle cx="432.6" cy="494.4" r="1.95"/>
<circle cx="421.2" cy="493.2" r="1.95"/>
<circle cx="435.4" cy="494.1" r="1.95"/>
<circle cx="422.9" cy="493.7" r="1.95"/>
<circle cx="434.5" cy="492.7" r="1.95"/>
<circle cx="468.2" cy="492.5" r="1.95"/>
<circle cx="466.2" cy="492.8" r="1.95"/>
<circle cx="441.8" cy="493.0" r="1.95"/>
<circle cx="486.0" cy="493.5" r="1.95"/>
<circle cx="473.2" cy="492.5" r="1.95"/>
<circle cx="473.6" cy="492.8" r="1.95"/>
<circle cx="459.2" cy="493.4" r="1.95"/>
<circle cx="441.9" cy="493.2" r="1.95"/>
<circle cx="439.3" cy="492.8" r="1.95"/>
<circle cx="461.3" cy="492.1" r="1.95"/>
<circle cx="471.9" cy="492.7" r="1.95"/>
<circle cx="467.7" cy="493.5" r="1.95"/>
<circle cx="450.4" cy="491.6" r="1.95"/>
<circle cx="452.5" cy="493.0" r="1.95"/>
<circle cx="447.8" cy="492.0" r="1.95"/>
<circle cx="481.9" cy="493.0" r="1.95"/>
<circle cx="459.4" cy="493.5" r="1.95"/>
<circle cx="453.9" cy="493.0" r="1.95"/>
<circle cx="447.6" cy="492.5" r="1.95"/>
<circle cx="477.1" cy="493.5" r="1.95"/>
<circle cx="480.5" cy="492.5" r="1.95"/>
<circle cx="466.2" cy="492.3" r="1.95"/>
<circle cx="444.5" cy="492.7" r="1.95"/>
<circle cx="478.4" cy="493.4" r="1.95"/>
<circle cx="472.4" cy="493.5" r="1.95"/>
<circle cx="451.4" cy="492.0" r="1.95"/>
<circle cx="459.8" cy="492.1" r="1.95"/>
<circle cx="448.3" cy="492.5" r="1.95"/>
<circle cx="468.2" cy="492.7" r="1.95"/>
<circle cx="453.2" cy="493.4" r="1.95"/>
<circle cx="485.5" cy="492.5" r="1.95"/>
<circle cx="441.6" cy="491.6" r="1.95"/>
<circle cx="480.2" cy="491.6" r="1.95"/>
<circle cx="472.2" cy="492.8" r="1.95"/>
<circle cx="453.0" cy="493.2" r="1.95"/>
<circle cx="438.8" cy="492.0" r="1.95"/>
<circle cx="459.9" cy="491.6" r="1.95"/>
<circle cx="478.1" cy="492.1" r="1.95"/>
<circle cx="444.7" cy="491.8" r="1.95"/>
<circle cx="468.4" cy="492.5" r="1.95"/>
<circle cx="468.4" cy="493.0" r="1.95"/>
<circle cx="477.1" cy="493.7" r="1.95"/>
<circle cx="471.2" cy="492.0" r="1.95"/>
<circle cx="461.0" cy="492.0" r="1.95"/>
<circle cx="438.5" cy="492.7" r="1.95"/>
<circle cx="472.6" cy="492.0" r="1.95"/>
<circle cx="451.1" cy="492.3" r="1.95"/>
<circle cx="471.7" cy="492.7" r="1.95"/>
<circle cx="467.7" cy="493.2" r="1.95"/>
<circle cx="457.0" cy="493.4" r="1.95"/>
<circle cx="481.9" cy="491.8" r="1.95"/>
<circle cx="483.1" cy="493.2" r="1.95"/>
<circle cx="444.2" cy="492.5" r="1.95"/>
<circle cx="468.2" cy="493.5" r="1.95"/>
<circle cx="456.3" cy="492.8" r="1.95"/>
<circle cx="480.5" cy="493.4" r="1.95"/>
<circle cx="483.6" cy="492.7" r="1.95"/>
<circle cx="469.4" cy="492.0" r="1.95"/>
<circle cx="472.9" cy="493.4" r="1.95"/>
<circle cx="469.1" cy="493.2" r="1.95"/>
<circle cx="448.3" cy="493.5" r="1.95"/>
<circle cx="485.5" cy="493.7" r="1.95"/>
<circle cx="463.9" cy="493.2" r="1.95"/>
<circle cx="453.5" cy="493.5" r="1.95"/>
<circle cx="479.5" cy="492.3" r="1.95"/>
<circle cx="487.6" cy="492.0" r="1.95"/>
<circle cx="495.0" cy="493.7" r="1.95"/>
<circle cx="494.0" cy="489.9" r="1.95"/>
<circle cx="499.0" cy="490.1" r="1.95"/>
<circle cx="498.9" cy="490.6" r="1.95"/>
<circle cx="491.6" cy="493.9" r="1.95"/>
<circle cx="488.6" cy="490.4" r="1.95"/>
<circle cx="494.4" cy="493.5" r="1.95"/>
<circle cx="499.5" cy="493.4" r="1.95"/>
<circle cx="501.1" cy="492.3" r="1.95"/>
<circle cx="501.1" cy="490.2" r="1.95"/>
<circle cx="489.9" cy="492.5" r="1.95"/>
<circle cx="490.9" cy="493.5" r="1.95"/>
<circle cx="496.3" cy="492.5" r="1.95"/>
<circle cx="499.5" cy="492.7" r="1.95"/>
<circle cx="491.2" cy="491.6" r="1.95"/>
<circle cx="499.5" cy="494.4" r="1.95"/>
<circle cx="489.7" cy="494.2" r="1.95"/>
<circle cx="501.4" cy="492.5" r="1.95"/>
<circle cx="495.4" cy="490.8" r="1.95"/>
<circle cx="494.7" cy="492.3" r="1.95"/>
<circle cx="495.7" cy="489.9" r="1.95"/>
<circle cx="501.4" cy="492.3" r="1.95"/>
<circle cx="492.6" cy="493.9" r="1.95"/>
<circle cx="495.2" cy="492.3" r="1.95"/>
<circle cx="497.1" cy="490.1" r="1.95"/>
<circle cx="494.7" cy="491.8" r="1.95"/>
<circle cx="501.3" cy="494.6" r="1.95"/>
<circle cx="490.5" cy="492.1" r="1.95"/>
<circle cx="488.3" cy="492.0" r="1.95"/>
<circle cx="499.0" cy="494.4" r="1.95"/>
<circle cx="493.8" cy="491.5" r="1.95"/>
<circle cx="489.3" cy="493.0" r="1.95"/>
<circle cx="500.8" cy="490.4" r="1.95"/>
<circle cx="498.5" cy="489.9" r="1.95"/>
</g>
<path d="M321.85 359.6V498.79999999999995M503.2 359.6V498.79999999999995M321.45000000000005 360.0H503.59999999999997M321.45000000000005 498.4H503.59999999999997" fill="none" stroke="#000" stroke-opacity="0.85" stroke-width="0.8"/>
<line x1="319.15" x2="321.85" y1="498.4" y2="498.4" stroke="#000" stroke-opacity="0.8" stroke-width="0.8"/>
<line x1="319.15" x2="321.85" y1="470.7" y2="470.7" stroke="#000" stroke-opacity="0.8" stroke-width="0.8"/>
<line x1="319.15" x2="321.85" y1="443.0" y2="443.0" stroke="#000" stroke-opacity="0.8" stroke-width="0.8"/>
<line x1="319.15" x2="321.85" y1="415.4" y2="415.4" stroke="#000" stroke-opacity="0.8" stroke-width="0.8"/>
<line x1="319.15" x2="321.85" y1="387.7" y2="387.7" stroke="#000" stroke-opacity="0.8" stroke-width="0.8"/>
<line x1="319.15" x2="321.85" y1="360.0" y2="360.0" stroke="#000" stroke-opacity="0.8" stroke-width="0.8"/>
<line x1="325.0" x2="325.0" y1="498.4" y2="501.10" stroke="#000" stroke-opacity="0.8" stroke-width="0.8"/>
<text x="325.0" y="520.0" font-size="20.7" text-anchor="middle">0</text>
<line x1="360.3" x2="360.3" y1="498.4" y2="501.10" stroke="#000" stroke-opacity="0.8" stroke-width="0.8"/>
<text x="360.3" y="520.0" font-size="20.7" text-anchor="middle">20</text>
<line x1="395.6" x2="395.6" y1="498.4" y2="501.10" stroke="#000" stroke-opacity="0.8" stroke-width="0.8"/>
<text x="395.6" y="520.0" font-size="20.7" text-anchor="middle">40</text>
<line x1="430.9" x2="430.9" y1="498.4" y2="501.10" stroke="#000" stroke-opacity="0.8" stroke-width="0.8"/>
<text x="430.9" y="520.0" font-size="20.7" text-anchor="middle">60</text>
<line x1="466.2" x2="466.2" y1="498.4" y2="501.10" stroke="#000" stroke-opacity="0.8" stroke-width="0.8"/>
<text x="466.2" y="520.0" font-size="20.7" text-anchor="middle">80</text>
<line x1="501.5" x2="501.5" y1="498.4" y2="501.10" stroke="#000" stroke-opacity="0.8" stroke-width="0.8"/>
<text x="501.5" y="520.0" font-size="20.7" text-anchor="middle">100</text>
<text x="412.1" y="354.4" font-size="18.6" text-anchor="middle">F</text>
</g>
<text x="201.4" y="541.8" font-size="18.6" letter-spacing="0.1" text-anchor="middle">MAIA <tspan font-style="oblique">FVC</tspan><tspan font-style="oblique" font-size="13.0" dy="3.5">sunlit</tspan><tspan dy="-3.5"> (%)</tspan></text>
<text x="412.9" y="541.8" font-size="18.6" letter-spacing="0.1" text-anchor="middle">MAIA <tspan font-style="oblique">FVC</tspan><tspan font-style="oblique" font-size="13.0" dy="3.5">total</tspan><tspan dy="-3.5"> (%)</tspan></text>
<text transform="translate(19.3,95.8) rotate(-90)" font-size="18.6" text-anchor="middle"><tspan font-style="oblique">J</tspan><tspan font-style="oblique" font-size="12.4" dy="3.5">A, green sunlit</tspan></text>
<text transform="translate(46.3,95) rotate(-90)" font-size="18.6" text-anchor="middle" letter-spacing="0.4"><tspan font-size="16.7">(</tspan>µmol/m<tspan font-size="13.0" dy="-7">2</tspan><tspan dy="7">/s</tspan><tspan font-size="13.0" dy="-7">1</tspan><tspan dy="7" font-size="16.7">)</tspan></text>
<text transform="translate(19.3,262.5) rotate(-90)" font-size="18.6" text-anchor="middle"><tspan font-style="oblique">J</tspan><tspan font-style="oblique" font-size="12.4" dy="3.5">F, total</tspan></text>
<text transform="translate(46.3,263.3) rotate(-90)" font-size="18.6" text-anchor="middle" letter-spacing="0.4"><tspan font-size="16.7">(</tspan>µmol/m<tspan font-size="13.0" dy="-7">2</tspan><tspan dy="7">/s</tspan><tspan font-size="13.0" dy="-7">1</tspan><tspan dy="7" font-size="16.7">)</tspan></text>
<text transform="translate(25.4,429) rotate(-90)" font-size="18.6" text-anchor="middle">FQE</text>
<text transform="translate(46.3,429) rotate(-90)" font-size="18.6" text-anchor="middle">(%)</text>
</svg>
</body></html>
